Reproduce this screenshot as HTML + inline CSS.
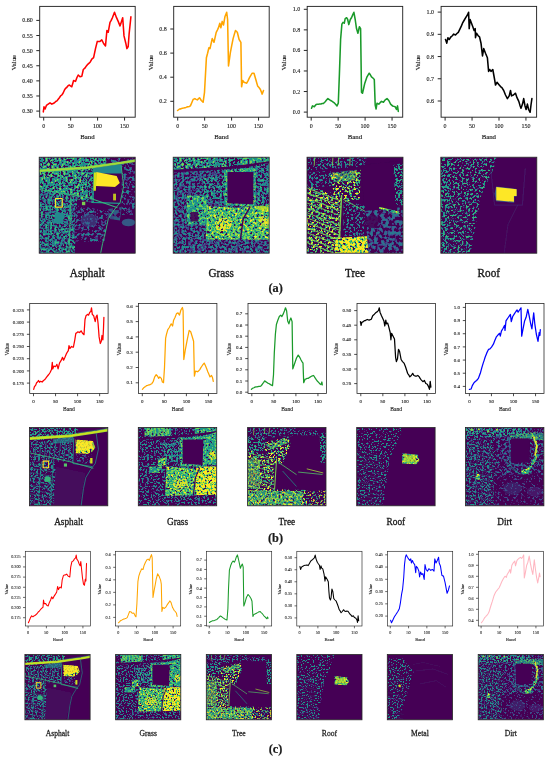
<!DOCTYPE html>
<html><head><meta charset="utf-8"><title>Endmembers and abundance maps</title>
<style>html,body{margin:0;padding:0;background:#fff;}svg{display:block;}</style></head>
<body><svg width="550" height="762" viewBox="0 0 550 762" font-family="'Liberation Serif','Times New Roman',serif" fill="#1a1a1a">
<defs><filter id="tx_tp" x="-5%" y="-5%" width="110%" height="110%" color-interpolation-filters="sRGB"><feTurbulence type="fractalNoise" baseFrequency="0.43" numOctaves="2" seed="3"/><feColorMatrix type="matrix" values="1 0 0 0 0 1 0 0 0 0 1 0 0 0 0 0 0 0 0 1"/><feComponentTransfer><feFuncR type="discrete" tableValues="0.267 0.267 0.267 0.267 0.267 0.267 0.267 0.267 0.267 0.267 0.267 0.267 0.267 0.267 0.267 0.267 0.267 0.267 0.267 0.267 0.267 0.267 0.278 0.224 0.192 0.137 0.137 0.137 0.122 0.122 0.122 0.122 0.208 0.208 0.208 0.208 0.208 0.208 0.208 0.208 0.208 0.208 0.208 0.208 0.208 0.208 0.208 0.208"/><feFuncG type="discrete" tableValues="0.004 0.004 0.004 0.004 0.004 0.004 0.004 0.004 0.004 0.004 0.004 0.004 0.004 0.004 0.004 0.004 0.004 0.004 0.004 0.004 0.004 0.004 0.184 0.337 0.408 0.533 0.533 0.533 0.596 0.596 0.596 0.596 0.718 0.718 0.718 0.718 0.718 0.718 0.718 0.718 0.718 0.718 0.718 0.718 0.718 0.718 0.718 0.718"/><feFuncB type="discrete" tableValues="0.329 0.329 0.329 0.329 0.329 0.329 0.329 0.329 0.329 0.329 0.329 0.329 0.329 0.329 0.329 0.329 0.329 0.329 0.329 0.329 0.329 0.329 0.490 0.549 0.557 0.557 0.557 0.557 0.545 0.545 0.545 0.545 0.475 0.475 0.475 0.475 0.475 0.475 0.475 0.475 0.475 0.475 0.475 0.475 0.475 0.475 0.475 0.475"/></feComponentTransfer><feComposite in2="SourceGraphic" operator="in"/></filter><filter id="tx_tpl" x="-5%" y="-5%" width="110%" height="110%" color-interpolation-filters="sRGB"><feTurbulence type="fractalNoise" baseFrequency="0.43" numOctaves="2" seed="4"/><feColorMatrix type="matrix" values="1 0 0 0 0 1 0 0 0 0 1 0 0 0 0 0 0 0 0 1"/><feComponentTransfer><feFuncR type="discrete" tableValues="0.267 0.267 0.267 0.267 0.267 0.267 0.267 0.267 0.267 0.267 0.267 0.267 0.267 0.267 0.267 0.267 0.267 0.267 0.267 0.267 0.192 0.192 0.137 0.137 0.122 0.122 0.122 0.122 0.208 0.208 0.208 0.208 0.478 0.478 0.478 0.478 0.478 0.478 0.478 0.478 0.478 0.478 0.478 0.478 0.478 0.478 0.478 0.478"/><feFuncG type="discrete" tableValues="0.004 0.004 0.004 0.004 0.004 0.004 0.004 0.004 0.004 0.004 0.004 0.004 0.004 0.004 0.004 0.004 0.004 0.004 0.004 0.004 0.408 0.408 0.533 0.533 0.596 0.596 0.596 0.596 0.718 0.718 0.718 0.718 0.820 0.820 0.820 0.820 0.820 0.820 0.820 0.820 0.820 0.820 0.820 0.820 0.820 0.820 0.820 0.820"/><feFuncB type="discrete" tableValues="0.329 0.329 0.329 0.329 0.329 0.329 0.329 0.329 0.329 0.329 0.329 0.329 0.329 0.329 0.329 0.329 0.329 0.329 0.329 0.329 0.557 0.557 0.557 0.557 0.545 0.545 0.545 0.545 0.475 0.475 0.475 0.475 0.318 0.318 0.318 0.318 0.318 0.318 0.318 0.318 0.318 0.318 0.318 0.318 0.318 0.318 0.318 0.318"/></feComponentTransfer><feComposite in2="SourceGraphic" operator="in"/></filter><filter id="tx_pb" x="-5%" y="-5%" width="110%" height="110%" color-interpolation-filters="sRGB"><feTurbulence type="fractalNoise" baseFrequency="0.34" numOctaves="2" seed="5"/><feColorMatrix type="matrix" values="1 0 0 0 0 1 0 0 0 0 1 0 0 0 0 0 0 0 0 1"/><feComponentTransfer><feFuncR type="discrete" tableValues="0.267 0.267 0.267 0.267 0.267 0.267 0.267 0.267 0.267 0.267 0.267 0.267 0.267 0.267 0.267 0.267 0.267 0.267 0.267 0.267 0.267 0.267 0.267 0.267 0.267 0.278 0.278 0.278 0.224 0.224 0.224 0.224 0.137 0.137 0.137 0.137 0.137 0.137 0.137 0.137 0.137 0.137 0.137 0.137 0.137 0.137 0.137 0.137"/><feFuncG type="discrete" tableValues="0.004 0.004 0.004 0.004 0.004 0.004 0.004 0.004 0.004 0.004 0.004 0.004 0.004 0.004 0.004 0.004 0.004 0.004 0.004 0.004 0.004 0.004 0.004 0.004 0.004 0.184 0.184 0.184 0.337 0.337 0.337 0.337 0.533 0.533 0.533 0.533 0.533 0.533 0.533 0.533 0.533 0.533 0.533 0.533 0.533 0.533 0.533 0.533"/><feFuncB type="discrete" tableValues="0.329 0.329 0.329 0.329 0.329 0.329 0.329 0.329 0.329 0.329 0.329 0.329 0.329 0.329 0.329 0.329 0.329 0.329 0.329 0.329 0.329 0.329 0.329 0.329 0.329 0.490 0.490 0.490 0.549 0.549 0.549 0.549 0.557 0.557 0.557 0.557 0.557 0.557 0.557 0.557 0.557 0.557 0.557 0.557 0.557 0.557 0.557 0.557"/></feComponentTransfer><feComposite in2="SourceGraphic" operator="in"/></filter><filter id="tx_pd" x="-5%" y="-5%" width="110%" height="110%" color-interpolation-filters="sRGB"><feTurbulence type="fractalNoise" baseFrequency="0.34" numOctaves="2" seed="6"/><feColorMatrix type="matrix" values="1 0 0 0 0 1 0 0 0 0 1 0 0 0 0 0 0 0 0 1"/><feComponentTransfer><feFuncR type="discrete" tableValues="0.267 0.267 0.267 0.267 0.267 0.267 0.267 0.267 0.267 0.267 0.267 0.267 0.267 0.267 0.267 0.267 0.267 0.267 0.267 0.267 0.267 0.267 0.267 0.267 0.267 0.267 0.267 0.267 0.282 0.282 0.282 0.255 0.255 0.224 0.224 0.224 0.224 0.224 0.224 0.224 0.224 0.224 0.224 0.224 0.224 0.224 0.224 0.224"/><feFuncG type="discrete" tableValues="0.004 0.004 0.004 0.004 0.004 0.004 0.004 0.004 0.004 0.004 0.004 0.004 0.004 0.004 0.004 0.004 0.004 0.004 0.004 0.004 0.004 0.004 0.004 0.004 0.004 0.004 0.004 0.004 0.102 0.102 0.102 0.267 0.267 0.337 0.337 0.337 0.337 0.337 0.337 0.337 0.337 0.337 0.337 0.337 0.337 0.337 0.337 0.337"/><feFuncB type="discrete" tableValues="0.329 0.329 0.329 0.329 0.329 0.329 0.329 0.329 0.329 0.329 0.329 0.329 0.329 0.329 0.329 0.329 0.329 0.329 0.329 0.329 0.329 0.329 0.329 0.329 0.329 0.329 0.329 0.329 0.424 0.424 0.424 0.529 0.529 0.549 0.549 0.549 0.549 0.549 0.549 0.549 0.549 0.549 0.549 0.549 0.549 0.549 0.549 0.549"/></feComponentTransfer><feComposite in2="SourceGraphic" operator="in"/></filter><filter id="tx_gy" x="-5%" y="-5%" width="110%" height="110%" color-interpolation-filters="sRGB"><feTurbulence type="fractalNoise" baseFrequency="0.4" numOctaves="2" seed="7"/><feColorMatrix type="matrix" values="1 0 0 0 0 1 0 0 0 0 1 0 0 0 0 0 0 0 0 1"/><feComponentTransfer><feFuncR type="discrete" tableValues="0.267 0.267 0.267 0.267 0.267 0.267 0.267 0.267 0.267 0.267 0.267 0.267 0.267 0.267 0.267 0.267 0.137 0.137 0.122 0.122 0.122 0.122 0.208 0.208 0.208 0.478 0.478 0.478 0.478 0.478 0.647 0.647 0.992 0.992 0.992 0.992 0.992 0.992 0.992 0.992 0.992 0.992 0.992 0.992 0.992 0.992 0.992 0.992"/><feFuncG type="discrete" tableValues="0.004 0.004 0.004 0.004 0.004 0.004 0.004 0.004 0.004 0.004 0.004 0.004 0.004 0.004 0.004 0.004 0.533 0.533 0.596 0.596 0.596 0.596 0.718 0.718 0.718 0.820 0.820 0.820 0.820 0.820 0.859 0.859 0.906 0.906 0.906 0.906 0.906 0.906 0.906 0.906 0.906 0.906 0.906 0.906 0.906 0.906 0.906 0.906"/><feFuncB type="discrete" tableValues="0.329 0.329 0.329 0.329 0.329 0.329 0.329 0.329 0.329 0.329 0.329 0.329 0.329 0.329 0.329 0.329 0.557 0.557 0.545 0.545 0.545 0.545 0.475 0.475 0.475 0.318 0.318 0.318 0.318 0.318 0.212 0.212 0.145 0.145 0.145 0.145 0.145 0.145 0.145 0.145 0.145 0.145 0.145 0.145 0.145 0.145 0.145 0.145"/></feComponentTransfer><feComposite in2="SourceGraphic" operator="in"/></filter><filter id="tx_yy" x="-5%" y="-5%" width="110%" height="110%" color-interpolation-filters="sRGB"><feTurbulence type="fractalNoise" baseFrequency="0.4" numOctaves="2" seed="8"/><feColorMatrix type="matrix" values="1 0 0 0 0 1 0 0 0 0 1 0 0 0 0 0 0 0 0 1"/><feComponentTransfer><feFuncR type="discrete" tableValues="0.267 0.267 0.267 0.267 0.267 0.267 0.267 0.267 0.267 0.267 0.267 0.267 0.267 0.267 0.267 0.267 0.122 0.122 0.208 0.208 0.478 0.478 0.478 0.824 0.824 0.992 0.992 0.992 0.992 0.992 0.992 0.992 0.992 0.992 0.992 0.992 0.992 0.992 0.992 0.992 0.992 0.992 0.992 0.992 0.992 0.992 0.992 0.992"/><feFuncG type="discrete" tableValues="0.004 0.004 0.004 0.004 0.004 0.004 0.004 0.004 0.004 0.004 0.004 0.004 0.004 0.004 0.004 0.004 0.596 0.596 0.718 0.718 0.820 0.820 0.820 0.886 0.886 0.906 0.906 0.906 0.906 0.906 0.906 0.906 0.906 0.906 0.906 0.906 0.906 0.906 0.906 0.906 0.906 0.906 0.906 0.906 0.906 0.906 0.906 0.906"/><feFuncB type="discrete" tableValues="0.329 0.329 0.329 0.329 0.329 0.329 0.329 0.329 0.329 0.329 0.329 0.329 0.329 0.329 0.329 0.329 0.545 0.545 0.475 0.475 0.318 0.318 0.318 0.106 0.106 0.145 0.145 0.145 0.145 0.145 0.145 0.145 0.145 0.145 0.145 0.145 0.145 0.145 0.145 0.145 0.145 0.145 0.145 0.145 0.145 0.145 0.145 0.145"/></feComponentTransfer><feComposite in2="SourceGraphic" operator="in"/></filter><filter id="tx_gt" x="-5%" y="-5%" width="110%" height="110%" color-interpolation-filters="sRGB"><feTurbulence type="fractalNoise" baseFrequency="0.4" numOctaves="2" seed="9"/><feColorMatrix type="matrix" values="1 0 0 0 0 1 0 0 0 0 1 0 0 0 0 0 0 0 0 1"/><feComponentTransfer><feFuncR type="discrete" tableValues="0.267 0.267 0.267 0.267 0.267 0.267 0.267 0.267 0.267 0.267 0.267 0.267 0.267 0.267 0.267 0.267 0.137 0.137 0.137 0.137 0.137 0.122 0.122 0.122 0.122 0.208 0.208 0.208 0.208 0.478 0.478 0.478 0.478 0.478 0.478 0.478 0.478 0.478 0.478 0.478 0.478 0.478 0.478 0.478 0.478 0.478 0.478 0.478"/><feFuncG type="discrete" tableValues="0.004 0.004 0.004 0.004 0.004 0.004 0.004 0.004 0.004 0.004 0.004 0.004 0.004 0.004 0.004 0.004 0.533 0.533 0.533 0.533 0.533 0.596 0.596 0.596 0.596 0.718 0.718 0.718 0.718 0.820 0.820 0.820 0.820 0.820 0.820 0.820 0.820 0.820 0.820 0.820 0.820 0.820 0.820 0.820 0.820 0.820 0.820 0.820"/><feFuncB type="discrete" tableValues="0.329 0.329 0.329 0.329 0.329 0.329 0.329 0.329 0.329 0.329 0.329 0.329 0.329 0.329 0.329 0.329 0.557 0.557 0.557 0.557 0.557 0.545 0.545 0.545 0.545 0.475 0.475 0.475 0.475 0.318 0.318 0.318 0.318 0.318 0.318 0.318 0.318 0.318 0.318 0.318 0.318 0.318 0.318 0.318 0.318 0.318 0.318 0.318"/></feComponentTransfer><feComposite in2="SourceGraphic" operator="in"/></filter><filter id="tx_pt" x="-5%" y="-5%" width="110%" height="110%" color-interpolation-filters="sRGB"><feTurbulence type="fractalNoise" baseFrequency="0.43" numOctaves="2" seed="10"/><feColorMatrix type="matrix" values="1 0 0 0 0 1 0 0 0 0 1 0 0 0 0 0 0 0 0 1"/><feComponentTransfer><feFuncR type="discrete" tableValues="0.267 0.267 0.267 0.267 0.267 0.267 0.267 0.267 0.267 0.267 0.267 0.267 0.267 0.267 0.267 0.267 0.267 0.267 0.267 0.267 0.267 0.267 0.267 0.267 0.267 0.137 0.137 0.122 0.122 0.122 0.122 0.122 0.208 0.208 0.208 0.208 0.208 0.208 0.208 0.208 0.208 0.208 0.208 0.208 0.208 0.208 0.208 0.208"/><feFuncG type="discrete" tableValues="0.004 0.004 0.004 0.004 0.004 0.004 0.004 0.004 0.004 0.004 0.004 0.004 0.004 0.004 0.004 0.004 0.004 0.004 0.004 0.004 0.004 0.004 0.004 0.004 0.004 0.533 0.533 0.596 0.596 0.596 0.596 0.596 0.718 0.718 0.718 0.718 0.718 0.718 0.718 0.718 0.718 0.718 0.718 0.718 0.718 0.718 0.718 0.718"/><feFuncB type="discrete" tableValues="0.329 0.329 0.329 0.329 0.329 0.329 0.329 0.329 0.329 0.329 0.329 0.329 0.329 0.329 0.329 0.329 0.329 0.329 0.329 0.329 0.329 0.329 0.329 0.329 0.329 0.557 0.557 0.545 0.545 0.545 0.545 0.545 0.475 0.475 0.475 0.475 0.475 0.475 0.475 0.475 0.475 0.475 0.475 0.475 0.475 0.475 0.475 0.475"/></feComponentTransfer><feComposite in2="SourceGraphic" operator="in"/></filter><filter id="tx_pts" x="-5%" y="-5%" width="110%" height="110%" color-interpolation-filters="sRGB"><feTurbulence type="fractalNoise" baseFrequency="0.45" numOctaves="2" seed="11"/><feColorMatrix type="matrix" values="1 0 0 0 0 1 0 0 0 0 1 0 0 0 0 0 0 0 0 1"/><feComponentTransfer><feFuncR type="discrete" tableValues="0.267 0.267 0.267 0.267 0.267 0.267 0.267 0.267 0.267 0.267 0.267 0.267 0.267 0.267 0.267 0.267 0.267 0.267 0.267 0.267 0.267 0.267 0.267 0.267 0.267 0.267 0.267 0.267 0.278 0.278 0.137 0.137 0.122 0.122 0.122 0.122 0.122 0.122 0.122 0.122 0.122 0.122 0.122 0.122 0.122 0.122 0.122 0.122"/><feFuncG type="discrete" tableValues="0.004 0.004 0.004 0.004 0.004 0.004 0.004 0.004 0.004 0.004 0.004 0.004 0.004 0.004 0.004 0.004 0.004 0.004 0.004 0.004 0.004 0.004 0.004 0.004 0.004 0.004 0.004 0.004 0.184 0.184 0.533 0.533 0.596 0.596 0.596 0.596 0.596 0.596 0.596 0.596 0.596 0.596 0.596 0.596 0.596 0.596 0.596 0.596"/><feFuncB type="discrete" tableValues="0.329 0.329 0.329 0.329 0.329 0.329 0.329 0.329 0.329 0.329 0.329 0.329 0.329 0.329 0.329 0.329 0.329 0.329 0.329 0.329 0.329 0.329 0.329 0.329 0.329 0.329 0.329 0.329 0.490 0.490 0.557 0.557 0.545 0.545 0.545 0.545 0.545 0.545 0.545 0.545 0.545 0.545 0.545 0.545 0.545 0.545 0.545 0.545"/></feComponentTransfer><feComposite in2="SourceGraphic" operator="in"/></filter><filter id="tx_py" x="-5%" y="-5%" width="110%" height="110%" color-interpolation-filters="sRGB"><feTurbulence type="fractalNoise" baseFrequency="0.43" numOctaves="2" seed="12"/><feColorMatrix type="matrix" values="1 0 0 0 0 1 0 0 0 0 1 0 0 0 0 0 0 0 0 1"/><feComponentTransfer><feFuncR type="discrete" tableValues="0.267 0.267 0.267 0.267 0.267 0.267 0.267 0.267 0.267 0.267 0.267 0.267 0.267 0.267 0.267 0.267 0.267 0.267 0.267 0.267 0.267 0.267 0.267 0.267 0.267 0.137 0.122 0.208 0.208 0.478 0.478 0.478 0.992 0.992 0.992 0.992 0.992 0.992 0.992 0.992 0.992 0.992 0.992 0.992 0.992 0.992 0.992 0.992"/><feFuncG type="discrete" tableValues="0.004 0.004 0.004 0.004 0.004 0.004 0.004 0.004 0.004 0.004 0.004 0.004 0.004 0.004 0.004 0.004 0.004 0.004 0.004 0.004 0.004 0.004 0.004 0.004 0.004 0.533 0.596 0.718 0.718 0.820 0.820 0.820 0.906 0.906 0.906 0.906 0.906 0.906 0.906 0.906 0.906 0.906 0.906 0.906 0.906 0.906 0.906 0.906"/><feFuncB type="discrete" tableValues="0.329 0.329 0.329 0.329 0.329 0.329 0.329 0.329 0.329 0.329 0.329 0.329 0.329 0.329 0.329 0.329 0.329 0.329 0.329 0.329 0.329 0.329 0.329 0.329 0.329 0.557 0.545 0.475 0.475 0.318 0.318 0.318 0.145 0.145 0.145 0.145 0.145 0.145 0.145 0.145 0.145 0.145 0.145 0.145 0.145 0.145 0.145 0.145"/></feComponentTransfer><feComposite in2="SourceGraphic" operator="in"/></filter><filter id="tx_ptd" x="-5%" y="-5%" width="110%" height="110%" color-interpolation-filters="sRGB"><feTurbulence type="fractalNoise" baseFrequency="0.43" numOctaves="2" seed="14"/><feColorMatrix type="matrix" values="1 0 0 0 0 1 0 0 0 0 1 0 0 0 0 0 0 0 0 1"/><feComponentTransfer><feFuncR type="discrete" tableValues="0.267 0.267 0.267 0.267 0.267 0.267 0.267 0.267 0.267 0.267 0.267 0.267 0.267 0.267 0.267 0.267 0.267 0.267 0.267 0.267 0.267 0.267 0.267 0.267 0.267 0.267 0.278 0.278 0.165 0.165 0.137 0.137 0.122 0.122 0.122 0.122 0.122 0.122 0.122 0.122 0.122 0.122 0.122 0.122 0.122 0.122 0.122 0.122"/><feFuncG type="discrete" tableValues="0.004 0.004 0.004 0.004 0.004 0.004 0.004 0.004 0.004 0.004 0.004 0.004 0.004 0.004 0.004 0.004 0.004 0.004 0.004 0.004 0.004 0.004 0.004 0.004 0.004 0.004 0.184 0.184 0.471 0.471 0.533 0.533 0.596 0.596 0.596 0.596 0.596 0.596 0.596 0.596 0.596 0.596 0.596 0.596 0.596 0.596 0.596 0.596"/><feFuncB type="discrete" tableValues="0.329 0.329 0.329 0.329 0.329 0.329 0.329 0.329 0.329 0.329 0.329 0.329 0.329 0.329 0.329 0.329 0.329 0.329 0.329 0.329 0.329 0.329 0.329 0.329 0.329 0.329 0.490 0.490 0.557 0.557 0.557 0.557 0.545 0.545 0.545 0.545 0.545 0.545 0.545 0.545 0.545 0.545 0.545 0.545 0.545 0.545 0.545 0.545"/></feComponentTransfer><feComposite in2="SourceGraphic" operator="in"/></filter><filter id="tx_pds" x="-5%" y="-5%" width="110%" height="110%" color-interpolation-filters="sRGB"><feTurbulence type="fractalNoise" baseFrequency="0.43" numOctaves="2" seed="15"/><feColorMatrix type="matrix" values="1 0 0 0 0 1 0 0 0 0 1 0 0 0 0 0 0 0 0 1"/><feComponentTransfer><feFuncR type="discrete" tableValues="0.267 0.267 0.267 0.267 0.267 0.267 0.267 0.267 0.267 0.267 0.267 0.267 0.267 0.267 0.267 0.267 0.267 0.267 0.267 0.267 0.267 0.267 0.267 0.267 0.267 0.267 0.267 0.267 0.278 0.278 0.165 0.165 0.137 0.137 0.137 0.137 0.137 0.137 0.137 0.137 0.137 0.137 0.137 0.137 0.137 0.137 0.137 0.137"/><feFuncG type="discrete" tableValues="0.004 0.004 0.004 0.004 0.004 0.004 0.004 0.004 0.004 0.004 0.004 0.004 0.004 0.004 0.004 0.004 0.004 0.004 0.004 0.004 0.004 0.004 0.004 0.004 0.004 0.004 0.004 0.004 0.184 0.184 0.471 0.471 0.533 0.533 0.533 0.533 0.533 0.533 0.533 0.533 0.533 0.533 0.533 0.533 0.533 0.533 0.533 0.533"/><feFuncB type="discrete" tableValues="0.329 0.329 0.329 0.329 0.329 0.329 0.329 0.329 0.329 0.329 0.329 0.329 0.329 0.329 0.329 0.329 0.329 0.329 0.329 0.329 0.329 0.329 0.329 0.329 0.329 0.329 0.329 0.329 0.490 0.490 0.557 0.557 0.557 0.557 0.557 0.557 0.557 0.557 0.557 0.557 0.557 0.557 0.557 0.557 0.557 0.557 0.557 0.557"/></feComponentTransfer><feComposite in2="SourceGraphic" operator="in"/></filter><filter id="tx_btd" x="-5%" y="-5%" width="110%" height="110%" color-interpolation-filters="sRGB"><feTurbulence type="fractalNoise" baseFrequency="0.27" numOctaves="2" seed="16"/><feColorMatrix type="matrix" values="1 0 0 0 0 1 0 0 0 0 1 0 0 0 0 0 0 0 0 1"/><feComponentTransfer><feFuncR type="discrete" tableValues="0.267 0.267 0.267 0.267 0.267 0.267 0.267 0.267 0.267 0.267 0.267 0.267 0.267 0.267 0.267 0.267 0.267 0.267 0.267 0.267 0.267 0.267 0.278 0.278 0.278 0.224 0.224 0.192 0.192 0.192 0.192 0.192 0.165 0.165 0.165 0.165 0.165 0.165 0.165 0.165 0.165 0.165 0.165 0.165 0.165 0.165 0.165 0.165"/><feFuncG type="discrete" tableValues="0.004 0.004 0.004 0.004 0.004 0.004 0.004 0.004 0.004 0.004 0.004 0.004 0.004 0.004 0.004 0.004 0.004 0.004 0.004 0.004 0.004 0.004 0.184 0.184 0.184 0.337 0.337 0.408 0.408 0.408 0.408 0.408 0.471 0.471 0.471 0.471 0.471 0.471 0.471 0.471 0.471 0.471 0.471 0.471 0.471 0.471 0.471 0.471"/><feFuncB type="discrete" tableValues="0.329 0.329 0.329 0.329 0.329 0.329 0.329 0.329 0.329 0.329 0.329 0.329 0.329 0.329 0.329 0.329 0.329 0.329 0.329 0.329 0.329 0.329 0.490 0.490 0.490 0.549 0.549 0.557 0.557 0.557 0.557 0.557 0.557 0.557 0.557 0.557 0.557 0.557 0.557 0.557 0.557 0.557 0.557 0.557 0.557 0.557 0.557 0.557"/></feComponentTransfer><feComposite in2="SourceGraphic" operator="in"/></filter><filter id="tx_tpm" x="-5%" y="-5%" width="110%" height="110%" color-interpolation-filters="sRGB"><feTurbulence type="fractalNoise" baseFrequency="0.43" numOctaves="2" seed="17"/><feColorMatrix type="matrix" values="1 0 0 0 0 1 0 0 0 0 1 0 0 0 0 0 0 0 0 1"/><feComponentTransfer><feFuncR type="discrete" tableValues="0.267 0.267 0.267 0.267 0.267 0.267 0.267 0.267 0.267 0.267 0.267 0.267 0.267 0.267 0.267 0.267 0.267 0.267 0.267 0.267 0.267 0.278 0.278 0.255 0.255 0.224 0.224 0.192 0.137 0.137 0.137 0.137 0.122 0.122 0.122 0.122 0.122 0.122 0.122 0.122 0.122 0.122 0.122 0.122 0.122 0.122 0.122 0.122"/><feFuncG type="discrete" tableValues="0.004 0.004 0.004 0.004 0.004 0.004 0.004 0.004 0.004 0.004 0.004 0.004 0.004 0.004 0.004 0.004 0.004 0.004 0.004 0.004 0.004 0.184 0.184 0.267 0.267 0.337 0.337 0.408 0.533 0.533 0.533 0.533 0.596 0.596 0.596 0.596 0.596 0.596 0.596 0.596 0.596 0.596 0.596 0.596 0.596 0.596 0.596 0.596"/><feFuncB type="discrete" tableValues="0.329 0.329 0.329 0.329 0.329 0.329 0.329 0.329 0.329 0.329 0.329 0.329 0.329 0.329 0.329 0.329 0.329 0.329 0.329 0.329 0.329 0.490 0.490 0.529 0.529 0.549 0.549 0.557 0.557 0.557 0.557 0.557 0.545 0.545 0.545 0.545 0.545 0.545 0.545 0.545 0.545 0.545 0.545 0.545 0.545 0.545 0.545 0.545"/></feComponentTransfer><feComposite in2="SourceGraphic" operator="in"/></filter><filter id="tx_ptr" x="-5%" y="-5%" width="110%" height="110%" color-interpolation-filters="sRGB"><feTurbulence type="fractalNoise" baseFrequency="0.45" numOctaves="2" seed="18"/><feColorMatrix type="matrix" values="1 0 0 0 0 1 0 0 0 0 1 0 0 0 0 0 0 0 0 1"/><feComponentTransfer><feFuncR type="discrete" tableValues="0.267 0.267 0.267 0.267 0.267 0.267 0.267 0.267 0.267 0.267 0.267 0.267 0.267 0.267 0.267 0.267 0.267 0.267 0.267 0.267 0.267 0.267 0.267 0.267 0.267 0.267 0.278 0.278 0.137 0.137 0.122 0.122 0.208 0.208 0.208 0.208 0.208 0.208 0.208 0.208 0.208 0.208 0.208 0.208 0.208 0.208 0.208 0.208"/><feFuncG type="discrete" tableValues="0.004 0.004 0.004 0.004 0.004 0.004 0.004 0.004 0.004 0.004 0.004 0.004 0.004 0.004 0.004 0.004 0.004 0.004 0.004 0.004 0.004 0.004 0.004 0.004 0.004 0.004 0.184 0.184 0.533 0.533 0.596 0.596 0.718 0.718 0.718 0.718 0.718 0.718 0.718 0.718 0.718 0.718 0.718 0.718 0.718 0.718 0.718 0.718"/><feFuncB type="discrete" tableValues="0.329 0.329 0.329 0.329 0.329 0.329 0.329 0.329 0.329 0.329 0.329 0.329 0.329 0.329 0.329 0.329 0.329 0.329 0.329 0.329 0.329 0.329 0.329 0.329 0.329 0.329 0.490 0.490 0.557 0.557 0.545 0.545 0.475 0.475 0.475 0.475 0.475 0.475 0.475 0.475 0.475 0.475 0.475 0.475 0.475 0.475 0.475 0.475"/></feComponentTransfer><feComposite in2="SourceGraphic" operator="in"/></filter><filter id="tx_bt" x="-5%" y="-5%" width="110%" height="110%" color-interpolation-filters="sRGB"><feTurbulence type="fractalNoise" baseFrequency="0.27" numOctaves="2" seed="13"/><feColorMatrix type="matrix" values="1 0 0 0 0 1 0 0 0 0 1 0 0 0 0 0 0 0 0 1"/><feComponentTransfer><feFuncR type="discrete" tableValues="0.267 0.267 0.267 0.267 0.267 0.267 0.267 0.267 0.267 0.267 0.267 0.267 0.267 0.267 0.267 0.267 0.267 0.278 0.278 0.224 0.224 0.224 0.224 0.224 0.192 0.192 0.192 0.192 0.192 0.165 0.165 0.165 0.165 0.165 0.165 0.165 0.165 0.165 0.165 0.165 0.165 0.165 0.165 0.165 0.165 0.165 0.165 0.165"/><feFuncG type="discrete" tableValues="0.004 0.004 0.004 0.004 0.004 0.004 0.004 0.004 0.004 0.004 0.004 0.004 0.004 0.004 0.004 0.004 0.004 0.184 0.184 0.337 0.337 0.337 0.337 0.337 0.408 0.408 0.408 0.408 0.408 0.471 0.471 0.471 0.471 0.471 0.471 0.471 0.471 0.471 0.471 0.471 0.471 0.471 0.471 0.471 0.471 0.471 0.471 0.471"/><feFuncB type="discrete" tableValues="0.329 0.329 0.329 0.329 0.329 0.329 0.329 0.329 0.329 0.329 0.329 0.329 0.329 0.329 0.329 0.329 0.329 0.490 0.490 0.549 0.549 0.549 0.549 0.549 0.557 0.557 0.557 0.557 0.557 0.557 0.557 0.557 0.557 0.557 0.557 0.557 0.557 0.557 0.557 0.557 0.557 0.557 0.557 0.557 0.557 0.557 0.557 0.557"/></feComponentTransfer><feComposite in2="SourceGraphic" operator="in"/></filter><filter id="mblur" x="-5%" y="-5%" width="110%" height="110%"><feGaussianBlur stdDeviation="0.55"/></filter></defs>
<rect width="550" height="762" fill="#fff"/>
<polyline points="43.3,111.9 44,106.8 45.1,109 46.4,105.4 48.2,104.1 50,102.8 51.8,104.1 53.15,103.44 54.5,102.8 55.73,101.55 56.97,100.9 58.2,99.2 59.4,97.72 60.6,95.9 61.8,95 63.03,93.21 64.27,90.45 65.5,88.3 66.7,87.49 67.9,85.97 69.1,85 70.45,85.81 71.8,86.8 73.6,80.5 75.5,81.4 76.85,77.77 78.2,75 80,76.8 81.8,76.3 83.3,69.5 84.85,68.2 86.4,65.9 87.75,64.32 89.1,63.2 90.45,61.65 91.8,59.2 93.6,57.7 95.5,48.6 97.3,41.4 98.65,41.53 100,41.4 101.8,39.9 103.6,43.5 105.5,45.9 106.9,30.5 108.2,32.3 110,22.3 111.2,20.42 112.4,17.7 114.5,12.3 116.4,17.4 118.2,21.4 120,25.9 121.5,21.4 122.7,17.7 124,35.9 125.8,43.2 126.9,48.6 128.2,46.5 129.1,34.1 130.9,16.8" fill="none" stroke="#ff0000" stroke-width="1.55" stroke-linejoin="round" stroke-linecap="round"/>
<rect x="39.7" y="6.4" width="95.5" height="110.8" fill="none" stroke="#262626" stroke-width="0.95"/>
<line x1="36.3" y1="111.1" x2="39.7" y2="111.1" stroke="#262626" stroke-width="1.00"/>
<text x="32.7" y="113.08" font-size="6.0" text-anchor="end" stroke="#1a1a1a" stroke-width="0.12">0.30</text>
<line x1="36.3" y1="95.98" x2="39.7" y2="95.98" stroke="#262626" stroke-width="1.00"/>
<text x="32.7" y="97.96" font-size="6.0" text-anchor="end" stroke="#1a1a1a" stroke-width="0.12">0.35</text>
<line x1="36.3" y1="80.87" x2="39.7" y2="80.87" stroke="#262626" stroke-width="1.00"/>
<text x="32.7" y="82.85" font-size="6.0" text-anchor="end" stroke="#1a1a1a" stroke-width="0.12">0.40</text>
<line x1="36.3" y1="65.75" x2="39.7" y2="65.75" stroke="#262626" stroke-width="1.00"/>
<text x="32.7" y="67.73" font-size="6.0" text-anchor="end" stroke="#1a1a1a" stroke-width="0.12">0.45</text>
<line x1="36.3" y1="50.63" x2="39.7" y2="50.63" stroke="#262626" stroke-width="1.00"/>
<text x="32.7" y="52.61" font-size="6.0" text-anchor="end" stroke="#1a1a1a" stroke-width="0.12">0.50</text>
<line x1="36.3" y1="35.52" x2="39.7" y2="35.52" stroke="#262626" stroke-width="1.00"/>
<text x="32.7" y="37.5" font-size="6.0" text-anchor="end" stroke="#1a1a1a" stroke-width="0.12">0.55</text>
<line x1="36.3" y1="20.4" x2="39.7" y2="20.4" stroke="#262626" stroke-width="1.00"/>
<text x="32.7" y="22.38" font-size="6.0" text-anchor="end" stroke="#1a1a1a" stroke-width="0.12">0.60</text>
<line x1="43.7" y1="117.2" x2="43.7" y2="120.6" stroke="#262626" stroke-width="1.00"/>
<text x="43.7" y="128.28" font-size="6.0" text-anchor="middle" stroke="#1a1a1a" stroke-width="0.12">0</text>
<line x1="70.65" y1="117.2" x2="70.65" y2="120.6" stroke="#262626" stroke-width="1.00"/>
<text x="70.65" y="128.28" font-size="6.0" text-anchor="middle" stroke="#1a1a1a" stroke-width="0.12">50</text>
<line x1="97.6" y1="117.2" x2="97.6" y2="120.6" stroke="#262626" stroke-width="1.00"/>
<text x="97.6" y="128.28" font-size="6.0" text-anchor="middle" stroke="#1a1a1a" stroke-width="0.12">100</text>
<line x1="124.55" y1="117.2" x2="124.55" y2="120.6" stroke="#262626" stroke-width="1.00"/>
<text x="124.55" y="128.28" font-size="6.0" text-anchor="middle" stroke="#1a1a1a" stroke-width="0.12">150</text>
<text x="87.45" y="138.54" font-size="6.8" text-anchor="middle" stroke="#1a1a1a" stroke-width="0.15">Band</text>
<text transform="translate(16.44,62.6) rotate(-90)" font-size="6.8" text-anchor="middle" stroke="#1a1a1a" stroke-width="0.15">Value</text>
<polyline points="177.6,110.5 179.5,109 180.85,108.86 182.2,108.32 183.55,108.06 184.9,107.7 186,107.4 187.1,106.86 188.2,106.8 189.3,106.44 190.4,105.9 191.75,102.7 193.1,99.5 194.9,98.6 196.1,99.4 197.3,99.9 199.5,97.7 201.3,100.5 203.1,102.3 204.5,92.3 206.4,57.7 207.6,53.2 208.9,47.7 210,48.6 212.2,38.6 214,42.3 216.2,32.3 217.35,30.1 218.5,27.7 219.8,23.2 220.9,27.7 222.2,21.4 223.5,25 224.9,16.8 226.7,12.3 227.6,19.5 228.5,65.9 230.4,52.3 231.75,45.43 233.1,38.6 234.3,34.41 235.5,30.5 237.3,32.3 239.1,39.5 240.9,42.3 241.6,86.8 242.7,80.5 244,82.3 245.35,82.63 246.7,83.2 248.1,80.61 249.5,77.7 250.85,75.31 252.2,73.2 254,73.2 255.8,79.5 257.6,85.9 259,87.51 260.4,89.5 262.2,94.1 263.5,90.5" fill="none" stroke="#ffa500" stroke-width="1.55" stroke-linejoin="round" stroke-linecap="round"/>
<rect x="173.7" y="6.4" width="95.5" height="110.8" fill="none" stroke="#262626" stroke-width="0.95"/>
<line x1="170.3" y1="101.3" x2="173.7" y2="101.3" stroke="#262626" stroke-width="1.00"/>
<text x="166.7" y="103.28" font-size="6.0" text-anchor="end" stroke="#1a1a1a" stroke-width="0.12">0.2</text>
<line x1="170.3" y1="77.2" x2="173.7" y2="77.2" stroke="#262626" stroke-width="1.00"/>
<text x="166.7" y="79.18" font-size="6.0" text-anchor="end" stroke="#1a1a1a" stroke-width="0.12">0.4</text>
<line x1="170.3" y1="53.1" x2="173.7" y2="53.1" stroke="#262626" stroke-width="1.00"/>
<text x="166.7" y="55.08" font-size="6.0" text-anchor="end" stroke="#1a1a1a" stroke-width="0.12">0.6</text>
<line x1="170.3" y1="29" x2="173.7" y2="29" stroke="#262626" stroke-width="1.00"/>
<text x="166.7" y="30.98" font-size="6.0" text-anchor="end" stroke="#1a1a1a" stroke-width="0.12">0.8</text>
<line x1="177.7" y1="117.2" x2="177.7" y2="120.6" stroke="#262626" stroke-width="1.00"/>
<text x="177.7" y="128.28" font-size="6.0" text-anchor="middle" stroke="#1a1a1a" stroke-width="0.12">0</text>
<line x1="204.65" y1="117.2" x2="204.65" y2="120.6" stroke="#262626" stroke-width="1.00"/>
<text x="204.65" y="128.28" font-size="6.0" text-anchor="middle" stroke="#1a1a1a" stroke-width="0.12">50</text>
<line x1="231.6" y1="117.2" x2="231.6" y2="120.6" stroke="#262626" stroke-width="1.00"/>
<text x="231.6" y="128.28" font-size="6.0" text-anchor="middle" stroke="#1a1a1a" stroke-width="0.12">100</text>
<line x1="258.55" y1="117.2" x2="258.55" y2="120.6" stroke="#262626" stroke-width="1.00"/>
<text x="258.55" y="128.28" font-size="6.0" text-anchor="middle" stroke="#1a1a1a" stroke-width="0.12">150</text>
<text x="221.45" y="138.54" font-size="6.8" text-anchor="middle" stroke="#1a1a1a" stroke-width="0.15">Band</text>
<text transform="translate(152.64,62.6) rotate(-90)" font-size="6.8" text-anchor="middle" stroke="#1a1a1a" stroke-width="0.15">Value</text>
<polyline points="311.5,108.3 312.5,105.9 314.3,106.8 316.1,104.6 317.3,104.27 318.5,104.34 319.7,104.1 320.93,103.96 322.17,103.52 323.4,103.5 325.2,101.7 326.55,100.09 327.9,98.6 329.7,99.9 331.1,100.71 332.5,101.7 334.6,103.2 335.8,104.45 337,105.9 338.3,103.2 339.4,74.1 340.6,39.5 341.9,24.1 343,22.3 344.3,23.2 345.2,18.6 346.6,17.7 347.7,19.5 348.8,24.6 350.3,19.5 351.5,17.7 352.7,14.86 353.9,12.3 355.2,19.5 356.5,28.6 357.9,33.2 359.4,26.8 360.6,28.6 361.5,92.3 362.5,93.2 363.65,88.24 364.8,83.2 367,76.8 369.2,73.2 370.35,74.8 371.5,76.8 372.9,78.01 374.3,79.5 375.2,105 376.1,109 377,103.2 378.8,104.1 380.15,102.67 381.5,101.4 383.4,102.3 385.2,99.9 387,98.6 388.8,100.5 390.6,104.1 392.5,105.9 393.85,106.36 395.2,106.8 396.5,109.5 397.5,105.9 398.3,111.4" fill="none" stroke="#1a9a2a" stroke-width="1.55" stroke-linejoin="round" stroke-linecap="round"/>
<rect x="307.2" y="6.4" width="95.5" height="110.8" fill="none" stroke="#262626" stroke-width="0.95"/>
<line x1="303.8" y1="112.1" x2="307.2" y2="112.1" stroke="#262626" stroke-width="1.00"/>
<text x="300.2" y="114.08" font-size="6.0" text-anchor="end" stroke="#1a1a1a" stroke-width="0.12">0.0</text>
<line x1="303.8" y1="91.54" x2="307.2" y2="91.54" stroke="#262626" stroke-width="1.00"/>
<text x="300.2" y="93.52" font-size="6.0" text-anchor="end" stroke="#1a1a1a" stroke-width="0.12">0.2</text>
<line x1="303.8" y1="70.98" x2="307.2" y2="70.98" stroke="#262626" stroke-width="1.00"/>
<text x="300.2" y="72.96" font-size="6.0" text-anchor="end" stroke="#1a1a1a" stroke-width="0.12">0.4</text>
<line x1="303.8" y1="50.42" x2="307.2" y2="50.42" stroke="#262626" stroke-width="1.00"/>
<text x="300.2" y="52.4" font-size="6.0" text-anchor="end" stroke="#1a1a1a" stroke-width="0.12">0.6</text>
<line x1="303.8" y1="29.86" x2="307.2" y2="29.86" stroke="#262626" stroke-width="1.00"/>
<text x="300.2" y="31.84" font-size="6.0" text-anchor="end" stroke="#1a1a1a" stroke-width="0.12">0.8</text>
<line x1="303.8" y1="9.3" x2="307.2" y2="9.3" stroke="#262626" stroke-width="1.00"/>
<text x="300.2" y="11.28" font-size="6.0" text-anchor="end" stroke="#1a1a1a" stroke-width="0.12">1.0</text>
<line x1="311.2" y1="117.2" x2="311.2" y2="120.6" stroke="#262626" stroke-width="1.00"/>
<text x="311.2" y="128.28" font-size="6.0" text-anchor="middle" stroke="#1a1a1a" stroke-width="0.12">0</text>
<line x1="338.15" y1="117.2" x2="338.15" y2="120.6" stroke="#262626" stroke-width="1.00"/>
<text x="338.15" y="128.28" font-size="6.0" text-anchor="middle" stroke="#1a1a1a" stroke-width="0.12">50</text>
<line x1="365.1" y1="117.2" x2="365.1" y2="120.6" stroke="#262626" stroke-width="1.00"/>
<text x="365.1" y="128.28" font-size="6.0" text-anchor="middle" stroke="#1a1a1a" stroke-width="0.12">100</text>
<line x1="392.05" y1="117.2" x2="392.05" y2="120.6" stroke="#262626" stroke-width="1.00"/>
<text x="392.05" y="128.28" font-size="6.0" text-anchor="middle" stroke="#1a1a1a" stroke-width="0.12">150</text>
<text x="354.95" y="138.54" font-size="6.8" text-anchor="middle" stroke="#1a1a1a" stroke-width="0.15">Band</text>
<text transform="translate(286.14,62.6) rotate(-90)" font-size="6.8" text-anchor="middle" stroke="#1a1a1a" stroke-width="0.15">Value</text>
<polyline points="445.5,39.5 446.8,43.2 447.9,37.7 449.2,39.5 451,36.8 452.35,35.75 453.7,34.1 455.5,35 456.9,33.51 458.3,32.3 460.1,28.6 461.3,26.15 462.5,23.2 464.6,19.5 466,17.2 467.4,15 468.6,12.3 469.2,28.6 470.1,19.5 471.5,23.2 472.8,26.8 474.1,30.5 475.2,28.6 475.5,37.7 476.5,33.2 478.3,35.9 479.5,36.8 481,43.2 482.5,55.9 483.7,48.6 485.5,53.2 487.4,57.7 488.6,71.4 489.7,69.5 491,71.4 492.8,69.5 494.6,79.5 495.5,85 497,82.3 499.2,85 500.55,86.59 501.9,87.7 503.7,90.5 505.5,95 507.4,98.6 509.2,95.9 510.5,90.5 511.5,95.9 513.4,95 515.5,93.2 517,97.7 518.8,101.4 519.9,105.15 521,108.3 522.5,104.1 523.7,98.6 525,105.9 526.1,109.5 527.4,104.1 528.6,109.5 530.1,112.3 531,105 531.9,98.6" fill="none" stroke="#000000" stroke-width="1.55" stroke-linejoin="round" stroke-linecap="round"/>
<rect x="441.1" y="6.4" width="95.5" height="110.8" fill="none" stroke="#262626" stroke-width="0.95"/>
<line x1="437.7" y1="101" x2="441.1" y2="101" stroke="#262626" stroke-width="1.00"/>
<text x="434.1" y="102.98" font-size="6.0" text-anchor="end" stroke="#1a1a1a" stroke-width="0.12">0.6</text>
<line x1="437.7" y1="78.78" x2="441.1" y2="78.78" stroke="#262626" stroke-width="1.00"/>
<text x="434.1" y="80.76" font-size="6.0" text-anchor="end" stroke="#1a1a1a" stroke-width="0.12">0.7</text>
<line x1="437.7" y1="56.55" x2="441.1" y2="56.55" stroke="#262626" stroke-width="1.00"/>
<text x="434.1" y="58.53" font-size="6.0" text-anchor="end" stroke="#1a1a1a" stroke-width="0.12">0.8</text>
<line x1="437.7" y1="34.32" x2="441.1" y2="34.32" stroke="#262626" stroke-width="1.00"/>
<text x="434.1" y="36.3" font-size="6.0" text-anchor="end" stroke="#1a1a1a" stroke-width="0.12">0.9</text>
<line x1="437.7" y1="12.1" x2="441.1" y2="12.1" stroke="#262626" stroke-width="1.00"/>
<text x="434.1" y="14.08" font-size="6.0" text-anchor="end" stroke="#1a1a1a" stroke-width="0.12">1.0</text>
<line x1="445.1" y1="117.2" x2="445.1" y2="120.6" stroke="#262626" stroke-width="1.00"/>
<text x="445.1" y="128.28" font-size="6.0" text-anchor="middle" stroke="#1a1a1a" stroke-width="0.12">0</text>
<line x1="472.05" y1="117.2" x2="472.05" y2="120.6" stroke="#262626" stroke-width="1.00"/>
<text x="472.05" y="128.28" font-size="6.0" text-anchor="middle" stroke="#1a1a1a" stroke-width="0.12">50</text>
<line x1="499" y1="117.2" x2="499" y2="120.6" stroke="#262626" stroke-width="1.00"/>
<text x="499" y="128.28" font-size="6.0" text-anchor="middle" stroke="#1a1a1a" stroke-width="0.12">100</text>
<line x1="525.95" y1="117.2" x2="525.95" y2="120.6" stroke="#262626" stroke-width="1.00"/>
<text x="525.95" y="128.28" font-size="6.0" text-anchor="middle" stroke="#1a1a1a" stroke-width="0.12">150</text>
<text x="488.85" y="138.54" font-size="6.8" text-anchor="middle" stroke="#1a1a1a" stroke-width="0.15">Band</text>
<text transform="translate(420.04,62.6) rotate(-90)" font-size="6.8" text-anchor="middle" stroke="#1a1a1a" stroke-width="0.15">Value</text>
<polyline points="33.7,389.3 34.5,386.4 35.5,385.6 36.6,382.7 37.7,381.7 38.5,380.5 39.5,382.3 40.6,381.3 42.1,382 43.5,380.5 44.6,379.82 45.7,378.4 46.8,376.89 47.9,375.5 49,374.08 50.1,372.5 51.5,369.6 52.3,362.4 52.7,368.9 54,366 55.5,366.7 56.9,364.3 58.1,368.9 59.5,363.1 61.3,360.2 62.5,357.3 63.6,360.2 64.85,357.42 66.1,354.4 67.2,352.3 68.3,350.7 69,345.6 70,348.5 71.5,346.4 72.45,347.11 73.4,347.1 74.8,339.8 75.8,333.3 76.75,332.9 77.7,331.8 78.65,332.16 79.6,332.5 81.1,330.8 82.5,333.3 84,334.7 85,319.5 86,315.8 87.5,314.4 88.6,315.1 89.8,312.2 90.8,311.5 91.5,307.8 92.3,314.4 93.7,315.8 95.2,321.6 96.2,316.5 97.1,315.1 98.1,323.8 99.1,336.9 100.3,343.5 101.3,341.3 102,335.5 102.9,339.8 103.5,328.2 103.9,317.3" fill="none" stroke="#ff0000" stroke-width="1.25" stroke-linejoin="round" stroke-linecap="round"/>
<rect x="29.7" y="303.4" width="78.4" height="90" fill="none" stroke="#262626" stroke-width="0.78"/>
<line x1="26.9" y1="383.1" x2="29.7" y2="383.1" stroke="#262626" stroke-width="0.82"/>
<text x="24" y="384.75" font-size="5.0" text-anchor="end" stroke="#1a1a1a" stroke-width="0.10">0.175</text>
<line x1="26.9" y1="370.9" x2="29.7" y2="370.9" stroke="#262626" stroke-width="0.82"/>
<text x="24" y="372.55" font-size="5.0" text-anchor="end" stroke="#1a1a1a" stroke-width="0.10">0.200</text>
<line x1="26.9" y1="358.7" x2="29.7" y2="358.7" stroke="#262626" stroke-width="0.82"/>
<text x="24" y="360.35" font-size="5.0" text-anchor="end" stroke="#1a1a1a" stroke-width="0.10">0.225</text>
<line x1="26.9" y1="346.5" x2="29.7" y2="346.5" stroke="#262626" stroke-width="0.82"/>
<text x="24" y="348.15" font-size="5.0" text-anchor="end" stroke="#1a1a1a" stroke-width="0.10">0.250</text>
<line x1="26.9" y1="334.3" x2="29.7" y2="334.3" stroke="#262626" stroke-width="0.82"/>
<text x="24" y="335.95" font-size="5.0" text-anchor="end" stroke="#1a1a1a" stroke-width="0.10">0.275</text>
<line x1="26.9" y1="322.1" x2="29.7" y2="322.1" stroke="#262626" stroke-width="0.82"/>
<text x="24" y="323.75" font-size="5.0" text-anchor="end" stroke="#1a1a1a" stroke-width="0.10">0.300</text>
<line x1="26.9" y1="309.9" x2="29.7" y2="309.9" stroke="#262626" stroke-width="0.82"/>
<text x="24" y="311.55" font-size="5.0" text-anchor="end" stroke="#1a1a1a" stroke-width="0.10">0.325</text>
<line x1="33.5" y1="393.4" x2="33.5" y2="396.2" stroke="#262626" stroke-width="0.82"/>
<text x="33.5" y="402.5" font-size="5.0" text-anchor="middle" stroke="#1a1a1a" stroke-width="0.10">0</text>
<line x1="55.55" y1="393.4" x2="55.55" y2="396.2" stroke="#262626" stroke-width="0.82"/>
<text x="55.55" y="402.5" font-size="5.0" text-anchor="middle" stroke="#1a1a1a" stroke-width="0.10">50</text>
<line x1="77.6" y1="393.4" x2="77.6" y2="396.2" stroke="#262626" stroke-width="0.82"/>
<text x="77.6" y="402.5" font-size="5.0" text-anchor="middle" stroke="#1a1a1a" stroke-width="0.10">100</text>
<line x1="99.65" y1="393.4" x2="99.65" y2="396.2" stroke="#262626" stroke-width="0.82"/>
<text x="99.65" y="402.5" font-size="5.0" text-anchor="middle" stroke="#1a1a1a" stroke-width="0.10">150</text>
<text x="68.9" y="410.85" font-size="5.6" text-anchor="middle" stroke="#1a1a1a" stroke-width="0.12">Band</text>
<text transform="translate(8.56,349.06) rotate(-90)" font-size="5.6" text-anchor="middle" stroke="#1a1a1a" stroke-width="0.12">Value</text>
<polyline points="142.4,389.3 143.45,388.03 144.5,387.1 145.6,386.42 146.7,385.6 147.67,385.43 148.63,384.95 149.6,384.9 150.7,384.24 151.8,383.7 153.3,381.3 154.7,376.9 156.2,374.7 157.6,376.2 158.7,378.4 159.8,376.9 161.3,378.4 162.4,382 163.5,382.7 164.5,367.5 165.6,338.4 166.4,334.7 167.8,329.6 169.3,327.5 170.25,325.56 171.2,323.8 172.6,326 173.6,320.2 175.1,317.3 176.5,313.6 178,312.9 179.5,315.1 180.9,310 182.4,307.5 183.1,310.7 183.8,359.5 185.3,350 186.4,344.1 187.5,338.4 189.2,330.4 190.7,331.8 192.1,336.2 193.6,341.3 194.4,376.2 195.5,371.1 196.55,371.31 197.6,371.8 198.7,370.74 199.8,369.6 200.9,367.6 202,366 203.1,364.41 204.2,363.1 205.6,366 206.7,368.82 207.8,371.8 208.9,374.36 210,376.9 211.5,375.5 212.5,377.6 213.3,381.3" fill="none" stroke="#ffa500" stroke-width="1.25" stroke-linejoin="round" stroke-linecap="round"/>
<rect x="138.5" y="303.4" width="78.4" height="90" fill="none" stroke="#262626" stroke-width="0.78"/>
<line x1="135.7" y1="382.8" x2="138.5" y2="382.8" stroke="#262626" stroke-width="0.82"/>
<text x="132.8" y="384.45" font-size="5.0" text-anchor="end" stroke="#1a1a1a" stroke-width="0.10">0.1</text>
<line x1="135.7" y1="367.5" x2="138.5" y2="367.5" stroke="#262626" stroke-width="0.82"/>
<text x="132.8" y="369.15" font-size="5.0" text-anchor="end" stroke="#1a1a1a" stroke-width="0.10">0.2</text>
<line x1="135.7" y1="352.2" x2="138.5" y2="352.2" stroke="#262626" stroke-width="0.82"/>
<text x="132.8" y="353.85" font-size="5.0" text-anchor="end" stroke="#1a1a1a" stroke-width="0.10">0.3</text>
<line x1="135.7" y1="336.9" x2="138.5" y2="336.9" stroke="#262626" stroke-width="0.82"/>
<text x="132.8" y="338.55" font-size="5.0" text-anchor="end" stroke="#1a1a1a" stroke-width="0.10">0.4</text>
<line x1="135.7" y1="321.6" x2="138.5" y2="321.6" stroke="#262626" stroke-width="0.82"/>
<text x="132.8" y="323.25" font-size="5.0" text-anchor="end" stroke="#1a1a1a" stroke-width="0.10">0.5</text>
<line x1="135.7" y1="306.3" x2="138.5" y2="306.3" stroke="#262626" stroke-width="0.82"/>
<text x="132.8" y="307.95" font-size="5.0" text-anchor="end" stroke="#1a1a1a" stroke-width="0.10">0.6</text>
<line x1="142.3" y1="393.4" x2="142.3" y2="396.2" stroke="#262626" stroke-width="0.82"/>
<text x="142.3" y="402.5" font-size="5.0" text-anchor="middle" stroke="#1a1a1a" stroke-width="0.10">0</text>
<line x1="164.35" y1="393.4" x2="164.35" y2="396.2" stroke="#262626" stroke-width="0.82"/>
<text x="164.35" y="402.5" font-size="5.0" text-anchor="middle" stroke="#1a1a1a" stroke-width="0.10">50</text>
<line x1="186.4" y1="393.4" x2="186.4" y2="396.2" stroke="#262626" stroke-width="0.82"/>
<text x="186.4" y="402.5" font-size="5.0" text-anchor="middle" stroke="#1a1a1a" stroke-width="0.10">100</text>
<line x1="208.45" y1="393.4" x2="208.45" y2="396.2" stroke="#262626" stroke-width="0.82"/>
<text x="208.45" y="402.5" font-size="5.0" text-anchor="middle" stroke="#1a1a1a" stroke-width="0.10">150</text>
<text x="177.7" y="410.85" font-size="5.6" text-anchor="middle" stroke="#1a1a1a" stroke-width="0.12">Band</text>
<text transform="translate(121.22,349.06) rotate(-90)" font-size="5.6" text-anchor="middle" stroke="#1a1a1a" stroke-width="0.12">Value</text>
<polyline points="251.4,389.3 252.8,388.1 253.9,387.72 255,387.1 255.97,386.91 256.93,386.93 257.9,386.7 258.87,386.48 259.83,386.4 260.8,386.1 261.75,385.02 262.7,383.7 263.7,382.4 264.7,380.8 265.65,381.63 266.6,382.3 267.7,383.1 268.8,383.5 270.6,384.6 271.55,385.12 272.5,385.6 273.5,374.7 274.3,352.9 275.4,334 276.4,324.5 277.8,320.2 279.3,316.5 280.7,315.1 281.9,316.5 283.4,313.6 284.5,310.7 285.5,307.8 286.6,310.7 287.7,320.9 288.9,323.8 289.9,320.2 290.9,318 292.1,321.6 292.8,368.9 294.3,364.5 295.4,361.25 296.5,358 298.2,355.1 299.15,356.36 300.1,358 301.05,359.96 302,361.6 303,363.1 303.7,382.7 305.2,379.1 306.17,378.8 307.13,378.45 308.1,378.4 309.07,377.64 310.03,377.1 311,376.5 312.3,375.91 313.6,375.5 315.4,378.4 316.45,379.93 317.5,381.3 318.6,382.41 319.7,383.7 320.9,384.6 321.9,382 322.3,384.9" fill="none" stroke="#1a9a2a" stroke-width="1.25" stroke-linejoin="round" stroke-linecap="round"/>
<rect x="248" y="303.4" width="78.4" height="90" fill="none" stroke="#262626" stroke-width="0.78"/>
<line x1="245.2" y1="392.2" x2="248" y2="392.2" stroke="#262626" stroke-width="0.82"/>
<text x="242.3" y="393.85" font-size="5.0" text-anchor="end" stroke="#1a1a1a" stroke-width="0.10">0.0</text>
<line x1="245.2" y1="381" x2="248" y2="381" stroke="#262626" stroke-width="0.82"/>
<text x="242.3" y="382.65" font-size="5.0" text-anchor="end" stroke="#1a1a1a" stroke-width="0.10">0.1</text>
<line x1="245.2" y1="369.8" x2="248" y2="369.8" stroke="#262626" stroke-width="0.82"/>
<text x="242.3" y="371.45" font-size="5.0" text-anchor="end" stroke="#1a1a1a" stroke-width="0.10">0.2</text>
<line x1="245.2" y1="358.6" x2="248" y2="358.6" stroke="#262626" stroke-width="0.82"/>
<text x="242.3" y="360.25" font-size="5.0" text-anchor="end" stroke="#1a1a1a" stroke-width="0.10">0.3</text>
<line x1="245.2" y1="347.4" x2="248" y2="347.4" stroke="#262626" stroke-width="0.82"/>
<text x="242.3" y="349.05" font-size="5.0" text-anchor="end" stroke="#1a1a1a" stroke-width="0.10">0.4</text>
<line x1="245.2" y1="336.2" x2="248" y2="336.2" stroke="#262626" stroke-width="0.82"/>
<text x="242.3" y="337.85" font-size="5.0" text-anchor="end" stroke="#1a1a1a" stroke-width="0.10">0.5</text>
<line x1="245.2" y1="325" x2="248" y2="325" stroke="#262626" stroke-width="0.82"/>
<text x="242.3" y="326.65" font-size="5.0" text-anchor="end" stroke="#1a1a1a" stroke-width="0.10">0.6</text>
<line x1="245.2" y1="313.8" x2="248" y2="313.8" stroke="#262626" stroke-width="0.82"/>
<text x="242.3" y="315.45" font-size="5.0" text-anchor="end" stroke="#1a1a1a" stroke-width="0.10">0.7</text>
<line x1="251.8" y1="393.4" x2="251.8" y2="396.2" stroke="#262626" stroke-width="0.82"/>
<text x="251.8" y="402.5" font-size="5.0" text-anchor="middle" stroke="#1a1a1a" stroke-width="0.10">0</text>
<line x1="273.85" y1="393.4" x2="273.85" y2="396.2" stroke="#262626" stroke-width="0.82"/>
<text x="273.85" y="402.5" font-size="5.0" text-anchor="middle" stroke="#1a1a1a" stroke-width="0.10">50</text>
<line x1="295.9" y1="393.4" x2="295.9" y2="396.2" stroke="#262626" stroke-width="0.82"/>
<text x="295.9" y="402.5" font-size="5.0" text-anchor="middle" stroke="#1a1a1a" stroke-width="0.10">100</text>
<line x1="317.95" y1="393.4" x2="317.95" y2="396.2" stroke="#262626" stroke-width="0.82"/>
<text x="317.95" y="402.5" font-size="5.0" text-anchor="middle" stroke="#1a1a1a" stroke-width="0.10">150</text>
<text x="287.2" y="410.85" font-size="5.6" text-anchor="middle" stroke="#1a1a1a" stroke-width="0.12">Band</text>
<text transform="translate(230.72,349.06) rotate(-90)" font-size="5.6" text-anchor="middle" stroke="#1a1a1a" stroke-width="0.12">Value</text>
<polyline points="360.4,321.6 361.1,325.3 361.8,322.4 363.3,321.6 364.4,320.74 365.5,320.6 366.55,319.74 367.6,319.5 369.1,320.2 370.2,319.68 371.3,319.2 372.7,315.8 373.8,314.81 374.9,313.6 376,312.56 377.1,311.9 378.5,310.4 379.3,307.8 380,312.2 381.5,315.8 382.9,318.7 383.9,320.9 384.8,326 385.8,320.2 386.5,323.8 387.7,323.1 388.7,326.7 390.2,332.5 390.9,339.8 391.6,333.3 393.1,336.2 394.5,339.1 395.6,357.3 396.4,361.6 397.5,358.7 398.5,349.3 399.6,351.5 401.1,359.5 402.5,361.6 404,363.1 405.5,366.7 406.55,369.95 407.6,373.3 408.7,374.77 409.8,376.9 411.3,375.5 412.7,373.3 413.9,375.5 415.6,376.2 416.7,376.06 417.8,375.5 419.3,376.9 420.25,378.68 421.2,379.8 422.9,381.7 424.4,380.5 425.8,383.5 427.3,384.2 428.4,386.4 429.5,389.3 430.2,381.3 430.9,387.1" fill="none" stroke="#000000" stroke-width="1.25" stroke-linejoin="round" stroke-linecap="round"/>
<rect x="357" y="303.4" width="78.4" height="90" fill="none" stroke="#262626" stroke-width="0.78"/>
<line x1="354.2" y1="383.6" x2="357" y2="383.6" stroke="#262626" stroke-width="0.82"/>
<text x="351.3" y="385.25" font-size="5.0" text-anchor="end" stroke="#1a1a1a" stroke-width="0.10">0.25</text>
<line x1="354.2" y1="369" x2="357" y2="369" stroke="#262626" stroke-width="0.82"/>
<text x="351.3" y="370.65" font-size="5.0" text-anchor="end" stroke="#1a1a1a" stroke-width="0.10">0.30</text>
<line x1="354.2" y1="354.4" x2="357" y2="354.4" stroke="#262626" stroke-width="0.82"/>
<text x="351.3" y="356.05" font-size="5.0" text-anchor="end" stroke="#1a1a1a" stroke-width="0.10">0.35</text>
<line x1="354.2" y1="339.8" x2="357" y2="339.8" stroke="#262626" stroke-width="0.82"/>
<text x="351.3" y="341.45" font-size="5.0" text-anchor="end" stroke="#1a1a1a" stroke-width="0.10">0.40</text>
<line x1="354.2" y1="325.2" x2="357" y2="325.2" stroke="#262626" stroke-width="0.82"/>
<text x="351.3" y="326.85" font-size="5.0" text-anchor="end" stroke="#1a1a1a" stroke-width="0.10">0.45</text>
<line x1="354.2" y1="310.6" x2="357" y2="310.6" stroke="#262626" stroke-width="0.82"/>
<text x="351.3" y="312.25" font-size="5.0" text-anchor="end" stroke="#1a1a1a" stroke-width="0.10">0.50</text>
<line x1="360.8" y1="393.4" x2="360.8" y2="396.2" stroke="#262626" stroke-width="0.82"/>
<text x="360.8" y="402.5" font-size="5.0" text-anchor="middle" stroke="#1a1a1a" stroke-width="0.10">0</text>
<line x1="382.85" y1="393.4" x2="382.85" y2="396.2" stroke="#262626" stroke-width="0.82"/>
<text x="382.85" y="402.5" font-size="5.0" text-anchor="middle" stroke="#1a1a1a" stroke-width="0.10">50</text>
<line x1="404.9" y1="393.4" x2="404.9" y2="396.2" stroke="#262626" stroke-width="0.82"/>
<text x="404.9" y="402.5" font-size="5.0" text-anchor="middle" stroke="#1a1a1a" stroke-width="0.10">100</text>
<line x1="426.95" y1="393.4" x2="426.95" y2="396.2" stroke="#262626" stroke-width="0.82"/>
<text x="426.95" y="402.5" font-size="5.0" text-anchor="middle" stroke="#1a1a1a" stroke-width="0.10">150</text>
<text x="396.2" y="410.85" font-size="5.6" text-anchor="middle" stroke="#1a1a1a" stroke-width="0.12">Band</text>
<text transform="translate(337.91,349.06) rotate(-90)" font-size="5.6" text-anchor="middle" stroke="#1a1a1a" stroke-width="0.12">Value</text>
<polyline points="469.4,389.3 471.1,389 472.3,385.6 474,382.7 475.3,381.52 476.6,380.5 478.4,378.4 479.35,375.7 480.3,373.3 481.7,368.2 483.2,363.1 484.15,360.35 485.1,357.3 486.8,352.9 488.6,349.3 490,348.8 491.5,347.1 492.45,345.67 493.4,344.2 494.8,340.5 496.3,336.9 497.25,335.8 498.2,334.7 499.6,333.3 500.3,336.2 501.4,331.1 503.1,328.2 504.6,325.3 505,330.4 506,320.9 506.95,319.33 507.9,318 509.4,315.8 510.4,314.4 511.3,321.6 512.7,316.5 514.5,313.6 515.9,311.5 517.1,310 518.1,312.2 519.5,310 521,307.8 521.7,336.2 522.9,329.6 524.6,320.9 526.1,317.3 527.8,309.3 529.3,316.5 530.7,323.8 531.9,328.9 533.7,312.9 534.8,323.8 536.3,334 538,341.3 539.2,332.5 539.9,335.5 540.3,329.6" fill="none" stroke="#0000ff" stroke-width="1.25" stroke-linejoin="round" stroke-linecap="round"/>
<rect x="465.6" y="303.4" width="78.4" height="90" fill="none" stroke="#262626" stroke-width="0.78"/>
<line x1="462.8" y1="386.4" x2="465.6" y2="386.4" stroke="#262626" stroke-width="0.82"/>
<text x="459.9" y="388.05" font-size="5.0" text-anchor="end" stroke="#1a1a1a" stroke-width="0.10">0.4</text>
<line x1="462.8" y1="373.23" x2="465.6" y2="373.23" stroke="#262626" stroke-width="0.82"/>
<text x="459.9" y="374.88" font-size="5.0" text-anchor="end" stroke="#1a1a1a" stroke-width="0.10">0.5</text>
<line x1="462.8" y1="360.07" x2="465.6" y2="360.07" stroke="#262626" stroke-width="0.82"/>
<text x="459.9" y="361.72" font-size="5.0" text-anchor="end" stroke="#1a1a1a" stroke-width="0.10">0.6</text>
<line x1="462.8" y1="346.9" x2="465.6" y2="346.9" stroke="#262626" stroke-width="0.82"/>
<text x="459.9" y="348.55" font-size="5.0" text-anchor="end" stroke="#1a1a1a" stroke-width="0.10">0.7</text>
<line x1="462.8" y1="333.73" x2="465.6" y2="333.73" stroke="#262626" stroke-width="0.82"/>
<text x="459.9" y="335.38" font-size="5.0" text-anchor="end" stroke="#1a1a1a" stroke-width="0.10">0.8</text>
<line x1="462.8" y1="320.57" x2="465.6" y2="320.57" stroke="#262626" stroke-width="0.82"/>
<text x="459.9" y="322.22" font-size="5.0" text-anchor="end" stroke="#1a1a1a" stroke-width="0.10">0.9</text>
<line x1="462.8" y1="307.4" x2="465.6" y2="307.4" stroke="#262626" stroke-width="0.82"/>
<text x="459.9" y="309.05" font-size="5.0" text-anchor="end" stroke="#1a1a1a" stroke-width="0.10">1.0</text>
<line x1="469.4" y1="393.4" x2="469.4" y2="396.2" stroke="#262626" stroke-width="0.82"/>
<text x="469.4" y="402.5" font-size="5.0" text-anchor="middle" stroke="#1a1a1a" stroke-width="0.10">0</text>
<line x1="491.45" y1="393.4" x2="491.45" y2="396.2" stroke="#262626" stroke-width="0.82"/>
<text x="491.45" y="402.5" font-size="5.0" text-anchor="middle" stroke="#1a1a1a" stroke-width="0.10">50</text>
<line x1="513.5" y1="393.4" x2="513.5" y2="396.2" stroke="#262626" stroke-width="0.82"/>
<text x="513.5" y="402.5" font-size="5.0" text-anchor="middle" stroke="#1a1a1a" stroke-width="0.10">100</text>
<line x1="535.55" y1="393.4" x2="535.55" y2="396.2" stroke="#262626" stroke-width="0.82"/>
<text x="535.55" y="402.5" font-size="5.0" text-anchor="middle" stroke="#1a1a1a" stroke-width="0.10">150</text>
<text x="504.8" y="410.85" font-size="5.6" text-anchor="middle" stroke="#1a1a1a" stroke-width="0.12">Band</text>
<text transform="translate(448.32,349.06) rotate(-90)" font-size="5.6" text-anchor="middle" stroke="#1a1a1a" stroke-width="0.12">Value</text>
<polyline points="28.4,622.8 29.3,620.7 30.5,617.6 31.7,615.8 32.9,616.8 33.7,616.01 34.5,615.8 35.55,615.02 36.6,614 37.4,613.28 38.2,612.02 39,611.5 39.8,610.46 40.6,609.48 41.4,608.7 42.2,607.82 43,607.3 43.5,600 44.2,603.6 45.7,603.6 46.9,605.4 48.1,606 49.4,602.4 50.6,600 51.6,596.9 52.8,598.7 53.8,596.65 54.8,595.1 55.75,593.62 56.7,592 57.6,586.5 58.5,589.6 59.7,587.2 60.5,587.25 61.3,588 62.2,579.8 63.4,575.6 64.3,575.06 65.2,575 66.7,574.1 68.2,576.2 69,576.45 69.8,577 70.7,567.1 71.9,561.6 72.7,561.17 73.5,560.7 74.3,559.1 75.6,557.9 76.2,555.1 76.8,559.1 78,560.7 79.2,564 80.1,565.8 80.8,561.6 81.6,569.5 82.5,578 83.5,584.1 84.4,585.3 85.3,579.2 85.9,581.1 86.5,563.4" fill="none" stroke="#ff0000" stroke-width="1.05" stroke-linejoin="round" stroke-linecap="round"/>
<rect x="25.3" y="551.3" width="65.2" height="74.7" fill="none" stroke="#262626" stroke-width="0.65"/>
<line x1="23" y1="617.7" x2="25.3" y2="617.7" stroke="#262626" stroke-width="0.68"/>
<text x="20.6" y="619.07" font-size="4.15" text-anchor="end" stroke="#1a1a1a" stroke-width="0.08">0.175</text>
<line x1="23" y1="607.55" x2="25.3" y2="607.55" stroke="#262626" stroke-width="0.68"/>
<text x="20.6" y="608.92" font-size="4.15" text-anchor="end" stroke="#1a1a1a" stroke-width="0.08">0.200</text>
<line x1="23" y1="597.4" x2="25.3" y2="597.4" stroke="#262626" stroke-width="0.68"/>
<text x="20.6" y="598.77" font-size="4.15" text-anchor="end" stroke="#1a1a1a" stroke-width="0.08">0.225</text>
<line x1="23" y1="587.25" x2="25.3" y2="587.25" stroke="#262626" stroke-width="0.68"/>
<text x="20.6" y="588.62" font-size="4.15" text-anchor="end" stroke="#1a1a1a" stroke-width="0.08">0.250</text>
<line x1="23" y1="577.1" x2="25.3" y2="577.1" stroke="#262626" stroke-width="0.68"/>
<text x="20.6" y="578.47" font-size="4.15" text-anchor="end" stroke="#1a1a1a" stroke-width="0.08">0.275</text>
<line x1="23" y1="566.95" x2="25.3" y2="566.95" stroke="#262626" stroke-width="0.68"/>
<text x="20.6" y="568.32" font-size="4.15" text-anchor="end" stroke="#1a1a1a" stroke-width="0.08">0.300</text>
<line x1="23" y1="556.8" x2="25.3" y2="556.8" stroke="#262626" stroke-width="0.68"/>
<text x="20.6" y="558.17" font-size="4.15" text-anchor="end" stroke="#1a1a1a" stroke-width="0.08">0.325</text>
<line x1="28.1" y1="626" x2="28.1" y2="628.3" stroke="#262626" stroke-width="0.68"/>
<text x="28.1" y="633.52" font-size="4.15" text-anchor="middle" stroke="#1a1a1a" stroke-width="0.08">0</text>
<line x1="46.38" y1="626" x2="46.38" y2="628.3" stroke="#262626" stroke-width="0.68"/>
<text x="46.38" y="633.52" font-size="4.15" text-anchor="middle" stroke="#1a1a1a" stroke-width="0.08">50</text>
<line x1="64.65" y1="626" x2="64.65" y2="628.3" stroke="#262626" stroke-width="0.68"/>
<text x="64.65" y="633.52" font-size="4.15" text-anchor="middle" stroke="#1a1a1a" stroke-width="0.08">100</text>
<line x1="82.92" y1="626" x2="82.92" y2="628.3" stroke="#262626" stroke-width="0.68"/>
<text x="82.92" y="633.52" font-size="4.15" text-anchor="middle" stroke="#1a1a1a" stroke-width="0.08">150</text>
<text x="57.9" y="640.53" font-size="4.65" text-anchor="middle" stroke="#1a1a1a" stroke-width="0.10">Band</text>
<text transform="translate(7.71,589.2) rotate(-90)" font-size="4.65" text-anchor="middle" stroke="#1a1a1a" stroke-width="0.10">Value</text>
<polyline points="118.4,622.8 119.45,621.87 120.5,620.7 121.3,620.21 122.1,619.93 122.9,619.4 123.73,619.08 124.57,618.9 125.4,618.5 126.3,618.17 127.2,617.6 128.4,614.6 129.6,611.5 131.1,611.9 132.3,613.3 133.1,613.35 133.9,613.1 135.1,615.8 136,616.8 136.9,603.6 137.9,581.7 138.8,576.2 140,572.5 140.8,570.78 141.6,568.9 143,569.5 144.2,565.2 145.5,562.2 146.9,559.7 148.1,559.1 149.4,560.4 150.6,556.7 151.5,554.6 152.2,557.9 153,597.5 154.2,590.2 155.2,584.9 156.2,579.2 157.6,573.8 159.1,576.2 159.9,578.37 160.7,580.5 161.3,584.1 161.9,611.5 162.8,607.3 164.3,608.5 165.25,607.55 166.2,606.6 167.1,604.91 168,603.6 168.9,602.41 169.8,600.9 171,602.4 172.5,607.3 173.3,608.73 174.1,610.3 175.3,611.5 176.5,613.3 177.1,616.4" fill="none" stroke="#ffa500" stroke-width="1.05" stroke-linejoin="round" stroke-linecap="round"/>
<rect x="115.5" y="551.3" width="65.2" height="74.7" fill="none" stroke="#262626" stroke-width="0.65"/>
<line x1="113.2" y1="617.4" x2="115.5" y2="617.4" stroke="#262626" stroke-width="0.68"/>
<text x="110.8" y="618.77" font-size="4.15" text-anchor="end" stroke="#1a1a1a" stroke-width="0.08">0.1</text>
<line x1="113.2" y1="604.88" x2="115.5" y2="604.88" stroke="#262626" stroke-width="0.68"/>
<text x="110.8" y="606.25" font-size="4.15" text-anchor="end" stroke="#1a1a1a" stroke-width="0.08">0.2</text>
<line x1="113.2" y1="592.36" x2="115.5" y2="592.36" stroke="#262626" stroke-width="0.68"/>
<text x="110.8" y="593.73" font-size="4.15" text-anchor="end" stroke="#1a1a1a" stroke-width="0.08">0.3</text>
<line x1="113.2" y1="579.84" x2="115.5" y2="579.84" stroke="#262626" stroke-width="0.68"/>
<text x="110.8" y="581.21" font-size="4.15" text-anchor="end" stroke="#1a1a1a" stroke-width="0.08">0.4</text>
<line x1="113.2" y1="567.32" x2="115.5" y2="567.32" stroke="#262626" stroke-width="0.68"/>
<text x="110.8" y="568.69" font-size="4.15" text-anchor="end" stroke="#1a1a1a" stroke-width="0.08">0.5</text>
<line x1="113.2" y1="554.8" x2="115.5" y2="554.8" stroke="#262626" stroke-width="0.68"/>
<text x="110.8" y="556.17" font-size="4.15" text-anchor="end" stroke="#1a1a1a" stroke-width="0.08">0.6</text>
<line x1="118.3" y1="626" x2="118.3" y2="628.3" stroke="#262626" stroke-width="0.68"/>
<text x="118.3" y="633.52" font-size="4.15" text-anchor="middle" stroke="#1a1a1a" stroke-width="0.08">0</text>
<line x1="136.57" y1="626" x2="136.57" y2="628.3" stroke="#262626" stroke-width="0.68"/>
<text x="136.57" y="633.52" font-size="4.15" text-anchor="middle" stroke="#1a1a1a" stroke-width="0.08">50</text>
<line x1="154.85" y1="626" x2="154.85" y2="628.3" stroke="#262626" stroke-width="0.68"/>
<text x="154.85" y="633.52" font-size="4.15" text-anchor="middle" stroke="#1a1a1a" stroke-width="0.08">100</text>
<line x1="173.12" y1="626" x2="173.12" y2="628.3" stroke="#262626" stroke-width="0.68"/>
<text x="173.12" y="633.52" font-size="4.15" text-anchor="middle" stroke="#1a1a1a" stroke-width="0.08">150</text>
<text x="148.1" y="640.53" font-size="4.65" text-anchor="middle" stroke="#1a1a1a" stroke-width="0.10">Band</text>
<text transform="translate(101.12,589.2) rotate(-90)" font-size="4.65" text-anchor="middle" stroke="#1a1a1a" stroke-width="0.10">Value</text>
<polyline points="209.4,622.5 210.45,621.72 211.5,621.3 212.5,620.85 213.5,620.69 214.5,620.4 215.33,620.12 216.17,619.64 217,619.4 217.9,618.48 218.8,617.6 219.6,616.64 220.4,616 221.8,616.8 222.75,617.61 223.7,618.2 224.6,618.96 225.5,619.4 227,620 227.9,608.5 228.5,589 229.4,570.1 230.6,565.8 231.8,562.8 233,561 234.3,562.2 235.2,560.4 236.2,557.3 237.4,554.9 238.3,558.5 239.1,562.2 240.4,568.3 241.3,565.8 242.3,564 243.2,567.1 243.8,606 244.7,603.6 245.55,600.53 246.4,597.5 247.2,596.08 248,594.5 248.8,595.27 249.6,596.3 251.1,598.7 252,601.2 252.9,616.4 253.8,614.6 254.9,614.08 256,613.6 256.8,613.06 257.6,612.65 258.4,612.1 259.3,611.79 260.2,611.5 261.1,612.55 262,613.3 262.95,614.52 263.9,615.8 264.8,616.71 265.7,617.6 266.9,618.8 267.5,617 268.1,618.2" fill="none" stroke="#1a9a2a" stroke-width="1.05" stroke-linejoin="round" stroke-linecap="round"/>
<rect x="206.5" y="551.3" width="65.2" height="74.7" fill="none" stroke="#262626" stroke-width="0.65"/>
<line x1="204.2" y1="625.6" x2="206.5" y2="625.6" stroke="#262626" stroke-width="0.68"/>
<text x="201.8" y="626.97" font-size="4.15" text-anchor="end" stroke="#1a1a1a" stroke-width="0.08">0.0</text>
<line x1="204.2" y1="616.24" x2="206.5" y2="616.24" stroke="#262626" stroke-width="0.68"/>
<text x="201.8" y="617.61" font-size="4.15" text-anchor="end" stroke="#1a1a1a" stroke-width="0.08">0.1</text>
<line x1="204.2" y1="606.89" x2="206.5" y2="606.89" stroke="#262626" stroke-width="0.68"/>
<text x="201.8" y="608.26" font-size="4.15" text-anchor="end" stroke="#1a1a1a" stroke-width="0.08">0.2</text>
<line x1="204.2" y1="597.53" x2="206.5" y2="597.53" stroke="#262626" stroke-width="0.68"/>
<text x="201.8" y="598.9" font-size="4.15" text-anchor="end" stroke="#1a1a1a" stroke-width="0.08">0.3</text>
<line x1="204.2" y1="588.17" x2="206.5" y2="588.17" stroke="#262626" stroke-width="0.68"/>
<text x="201.8" y="589.54" font-size="4.15" text-anchor="end" stroke="#1a1a1a" stroke-width="0.08">0.4</text>
<line x1="204.2" y1="578.81" x2="206.5" y2="578.81" stroke="#262626" stroke-width="0.68"/>
<text x="201.8" y="580.18" font-size="4.15" text-anchor="end" stroke="#1a1a1a" stroke-width="0.08">0.5</text>
<line x1="204.2" y1="569.46" x2="206.5" y2="569.46" stroke="#262626" stroke-width="0.68"/>
<text x="201.8" y="570.83" font-size="4.15" text-anchor="end" stroke="#1a1a1a" stroke-width="0.08">0.6</text>
<line x1="204.2" y1="560.1" x2="206.5" y2="560.1" stroke="#262626" stroke-width="0.68"/>
<text x="201.8" y="561.47" font-size="4.15" text-anchor="end" stroke="#1a1a1a" stroke-width="0.08">0.7</text>
<line x1="209.3" y1="626" x2="209.3" y2="628.3" stroke="#262626" stroke-width="0.68"/>
<text x="209.3" y="633.52" font-size="4.15" text-anchor="middle" stroke="#1a1a1a" stroke-width="0.08">0</text>
<line x1="227.58" y1="626" x2="227.58" y2="628.3" stroke="#262626" stroke-width="0.68"/>
<text x="227.58" y="633.52" font-size="4.15" text-anchor="middle" stroke="#1a1a1a" stroke-width="0.08">50</text>
<line x1="245.85" y1="626" x2="245.85" y2="628.3" stroke="#262626" stroke-width="0.68"/>
<text x="245.85" y="633.52" font-size="4.15" text-anchor="middle" stroke="#1a1a1a" stroke-width="0.08">100</text>
<line x1="264.12" y1="626" x2="264.12" y2="628.3" stroke="#262626" stroke-width="0.68"/>
<text x="264.12" y="633.52" font-size="4.15" text-anchor="middle" stroke="#1a1a1a" stroke-width="0.08">150</text>
<text x="239.1" y="640.53" font-size="4.65" text-anchor="middle" stroke="#1a1a1a" stroke-width="0.10">Band</text>
<text transform="translate(192.12,589.2) rotate(-90)" font-size="4.65" text-anchor="middle" stroke="#1a1a1a" stroke-width="0.10">Value</text>
<polyline points="299.9,566.4 300.6,569.5 301.5,567.1 302.4,566.46 303.3,566.1 304.2,565.39 305.1,565.2 306.05,565.3 307,564.9 308.2,565.6 309.4,563.4 310.6,561.2 311.5,560.49 312.4,559.7 313.35,558.8 314.3,557.9 315.2,555.1 316.1,559.1 317.3,562.2 318.5,564 319.4,565.2 320.1,569.5 321,565.8 321.8,568.3 322.8,568.9 324,573.8 325,581.1 325.6,576.8 327.1,579.2 328.3,581.7 328.9,591.4 329.5,598.1 330.4,600 331.1,597.5 331.9,589 332.8,591.4 333.8,598.7 335,600 336.2,601.2 337.4,604.2 338.3,606.74 339.2,609.7 340.15,610.9 341.1,612.7 342.3,611.5 343.5,609.7 344.5,610.9 345.9,611.5 346.85,611.08 347.8,611.2 349,612.7 349.8,613.97 350.6,614.6 352,616.4 353.3,615.8 354.5,617.6 355.9,618.2 356.9,620 357.5,622.5 358.1,615.8 358.7,620.7" fill="none" stroke="#000000" stroke-width="1.05" stroke-linejoin="round" stroke-linecap="round"/>
<rect x="296.8" y="551.3" width="65.2" height="74.7" fill="none" stroke="#262626" stroke-width="0.65"/>
<line x1="294.5" y1="617.9" x2="296.8" y2="617.9" stroke="#262626" stroke-width="0.68"/>
<text x="292.1" y="619.27" font-size="4.15" text-anchor="end" stroke="#1a1a1a" stroke-width="0.08">0.25</text>
<line x1="294.5" y1="605.86" x2="296.8" y2="605.86" stroke="#262626" stroke-width="0.68"/>
<text x="292.1" y="607.23" font-size="4.15" text-anchor="end" stroke="#1a1a1a" stroke-width="0.08">0.30</text>
<line x1="294.5" y1="593.82" x2="296.8" y2="593.82" stroke="#262626" stroke-width="0.68"/>
<text x="292.1" y="595.19" font-size="4.15" text-anchor="end" stroke="#1a1a1a" stroke-width="0.08">0.35</text>
<line x1="294.5" y1="581.78" x2="296.8" y2="581.78" stroke="#262626" stroke-width="0.68"/>
<text x="292.1" y="583.15" font-size="4.15" text-anchor="end" stroke="#1a1a1a" stroke-width="0.08">0.40</text>
<line x1="294.5" y1="569.74" x2="296.8" y2="569.74" stroke="#262626" stroke-width="0.68"/>
<text x="292.1" y="571.11" font-size="4.15" text-anchor="end" stroke="#1a1a1a" stroke-width="0.08">0.45</text>
<line x1="294.5" y1="557.7" x2="296.8" y2="557.7" stroke="#262626" stroke-width="0.68"/>
<text x="292.1" y="559.07" font-size="4.15" text-anchor="end" stroke="#1a1a1a" stroke-width="0.08">0.50</text>
<line x1="299.6" y1="626" x2="299.6" y2="628.3" stroke="#262626" stroke-width="0.68"/>
<text x="299.6" y="633.52" font-size="4.15" text-anchor="middle" stroke="#1a1a1a" stroke-width="0.08">0</text>
<line x1="317.88" y1="626" x2="317.88" y2="628.3" stroke="#262626" stroke-width="0.68"/>
<text x="317.88" y="633.52" font-size="4.15" text-anchor="middle" stroke="#1a1a1a" stroke-width="0.08">50</text>
<line x1="336.15" y1="626" x2="336.15" y2="628.3" stroke="#262626" stroke-width="0.68"/>
<text x="336.15" y="633.52" font-size="4.15" text-anchor="middle" stroke="#1a1a1a" stroke-width="0.08">100</text>
<line x1="354.43" y1="626" x2="354.43" y2="628.3" stroke="#262626" stroke-width="0.68"/>
<text x="354.43" y="633.52" font-size="4.15" text-anchor="middle" stroke="#1a1a1a" stroke-width="0.08">150</text>
<text x="329.4" y="640.53" font-size="4.65" text-anchor="middle" stroke="#1a1a1a" stroke-width="0.10">Band</text>
<text transform="translate(280.92,589.2) rotate(-90)" font-size="4.65" text-anchor="middle" stroke="#1a1a1a" stroke-width="0.10">Value</text>
<polyline points="390.6,620.3 391.5,622.7 392.3,621.26 393.1,619.5 393.9,617.7 394.7,616.2 395.55,615.08 396.4,613.7 397.2,612.45 398,611.3 399.3,608.8 400.5,602.3 401.6,594.1 402.6,589.2 403.7,577.7 404.5,564.6 405.4,557.3 406.2,554.8 407.5,557.3 408.6,558.9 409.8,560.5 410.8,558.9 411.4,563 412.4,560.5 413.5,563 414.7,564.6 415.7,572.8 416.3,566.3 417.6,567.9 418.9,571.2 419.6,576.9 420.6,572 421.7,574.5 422.9,573.6 424.2,579.4 425,564.6 426.1,569.5 427.5,571.2 428.8,568.7 429.75,569.43 430.7,570.4 431.7,569.78 432.7,569.5 434,571.2 434.8,558.9 436,563 437.3,560.5 438.6,557.3 439.2,563 440.5,566.3 441.9,575.3 442.7,575.88 443.5,576.1 444.3,579.38 445.1,582.6 446.3,589.2 447.1,593.3 448.4,590 449.5,585.9" fill="none" stroke="#0000ff" stroke-width="1.05" stroke-linejoin="round" stroke-linecap="round"/>
<rect x="387.5" y="551.3" width="65.2" height="74.7" fill="none" stroke="#262626" stroke-width="0.65"/>
<line x1="385.2" y1="616.1" x2="387.5" y2="616.1" stroke="#262626" stroke-width="0.68"/>
<text x="382.8" y="617.47" font-size="4.15" text-anchor="end" stroke="#1a1a1a" stroke-width="0.08">0.20</text>
<line x1="385.2" y1="603.84" x2="387.5" y2="603.84" stroke="#262626" stroke-width="0.68"/>
<text x="382.8" y="605.21" font-size="4.15" text-anchor="end" stroke="#1a1a1a" stroke-width="0.08">0.25</text>
<line x1="385.2" y1="591.58" x2="387.5" y2="591.58" stroke="#262626" stroke-width="0.68"/>
<text x="382.8" y="592.95" font-size="4.15" text-anchor="end" stroke="#1a1a1a" stroke-width="0.08">0.30</text>
<line x1="385.2" y1="579.32" x2="387.5" y2="579.32" stroke="#262626" stroke-width="0.68"/>
<text x="382.8" y="580.69" font-size="4.15" text-anchor="end" stroke="#1a1a1a" stroke-width="0.08">0.35</text>
<line x1="385.2" y1="567.06" x2="387.5" y2="567.06" stroke="#262626" stroke-width="0.68"/>
<text x="382.8" y="568.43" font-size="4.15" text-anchor="end" stroke="#1a1a1a" stroke-width="0.08">0.40</text>
<line x1="385.2" y1="554.8" x2="387.5" y2="554.8" stroke="#262626" stroke-width="0.68"/>
<text x="382.8" y="556.17" font-size="4.15" text-anchor="end" stroke="#1a1a1a" stroke-width="0.08">0.45</text>
<line x1="390.3" y1="626" x2="390.3" y2="628.3" stroke="#262626" stroke-width="0.68"/>
<text x="390.3" y="633.52" font-size="4.15" text-anchor="middle" stroke="#1a1a1a" stroke-width="0.08">0</text>
<line x1="408.57" y1="626" x2="408.57" y2="628.3" stroke="#262626" stroke-width="0.68"/>
<text x="408.57" y="633.52" font-size="4.15" text-anchor="middle" stroke="#1a1a1a" stroke-width="0.08">50</text>
<line x1="426.85" y1="626" x2="426.85" y2="628.3" stroke="#262626" stroke-width="0.68"/>
<text x="426.85" y="633.52" font-size="4.15" text-anchor="middle" stroke="#1a1a1a" stroke-width="0.08">100</text>
<line x1="445.12" y1="626" x2="445.12" y2="628.3" stroke="#262626" stroke-width="0.68"/>
<text x="445.12" y="633.52" font-size="4.15" text-anchor="middle" stroke="#1a1a1a" stroke-width="0.08">150</text>
<text x="420.1" y="640.53" font-size="4.65" text-anchor="middle" stroke="#1a1a1a" stroke-width="0.10">Band</text>
<text transform="translate(371.62,589.2) rotate(-90)" font-size="4.65" text-anchor="middle" stroke="#1a1a1a" stroke-width="0.10">Value</text>
<polyline points="481.4,622.8 482.9,620.7 483.8,619.28 484.7,617.6 485.5,616.8 486.3,615.96 487.1,615.2 488.05,613.69 489,612.1 489.9,609.01 490.8,606 491.6,603.48 492.4,601.2 493.8,596.3 494.75,593.99 495.7,592 497.2,590.2 498.1,588.96 499,588 500.5,584.7 501.3,582.73 502.1,581.1 503.6,578.3 505,576.2 506.3,577.4 507.2,574.4 508.7,571.9 509.9,569.5 510.6,573.1 511.9,565.2 513.3,562.8 514.8,561 515.5,565.8 517,560.4 517.9,559.42 518.8,558.5 519.6,557.94 520.4,557.3 521.6,558.5 522.8,556.7 523.7,554.9 524.3,578 525.3,573.1 526.7,565.2 527.9,562.2 529.2,556.1 530.4,563.4 531.6,569.5 532.8,574.4 534.3,559.7 535.3,568.3 536.5,576.8 537.7,582.9 538.9,576.8 539.5,573.1 540.1,576.8" fill="none" stroke="#ffb6c1" stroke-width="1.05" stroke-linejoin="round" stroke-linecap="round"/>
<rect x="478.3" y="551.3" width="65.2" height="74.7" fill="none" stroke="#262626" stroke-width="0.65"/>
<line x1="476" y1="620.3" x2="478.3" y2="620.3" stroke="#262626" stroke-width="0.68"/>
<text x="473.6" y="621.67" font-size="4.15" text-anchor="end" stroke="#1a1a1a" stroke-width="0.08">0.4</text>
<line x1="476" y1="609.3" x2="478.3" y2="609.3" stroke="#262626" stroke-width="0.68"/>
<text x="473.6" y="610.67" font-size="4.15" text-anchor="end" stroke="#1a1a1a" stroke-width="0.08">0.5</text>
<line x1="476" y1="598.3" x2="478.3" y2="598.3" stroke="#262626" stroke-width="0.68"/>
<text x="473.6" y="599.67" font-size="4.15" text-anchor="end" stroke="#1a1a1a" stroke-width="0.08">0.6</text>
<line x1="476" y1="587.3" x2="478.3" y2="587.3" stroke="#262626" stroke-width="0.68"/>
<text x="473.6" y="588.67" font-size="4.15" text-anchor="end" stroke="#1a1a1a" stroke-width="0.08">0.7</text>
<line x1="476" y1="576.3" x2="478.3" y2="576.3" stroke="#262626" stroke-width="0.68"/>
<text x="473.6" y="577.67" font-size="4.15" text-anchor="end" stroke="#1a1a1a" stroke-width="0.08">0.8</text>
<line x1="476" y1="565.3" x2="478.3" y2="565.3" stroke="#262626" stroke-width="0.68"/>
<text x="473.6" y="566.67" font-size="4.15" text-anchor="end" stroke="#1a1a1a" stroke-width="0.08">0.9</text>
<line x1="476" y1="554.3" x2="478.3" y2="554.3" stroke="#262626" stroke-width="0.68"/>
<text x="473.6" y="555.67" font-size="4.15" text-anchor="end" stroke="#1a1a1a" stroke-width="0.08">1.0</text>
<line x1="481.1" y1="626" x2="481.1" y2="628.3" stroke="#262626" stroke-width="0.68"/>
<text x="481.1" y="633.52" font-size="4.15" text-anchor="middle" stroke="#1a1a1a" stroke-width="0.08">0</text>
<line x1="499.38" y1="626" x2="499.38" y2="628.3" stroke="#262626" stroke-width="0.68"/>
<text x="499.38" y="633.52" font-size="4.15" text-anchor="middle" stroke="#1a1a1a" stroke-width="0.08">50</text>
<line x1="517.65" y1="626" x2="517.65" y2="628.3" stroke="#262626" stroke-width="0.68"/>
<text x="517.65" y="633.52" font-size="4.15" text-anchor="middle" stroke="#1a1a1a" stroke-width="0.08">100</text>
<line x1="535.93" y1="626" x2="535.93" y2="628.3" stroke="#262626" stroke-width="0.68"/>
<text x="535.93" y="633.52" font-size="4.15" text-anchor="middle" stroke="#1a1a1a" stroke-width="0.08">150</text>
<text x="510.9" y="640.53" font-size="4.65" text-anchor="middle" stroke="#1a1a1a" stroke-width="0.10">Band</text>
<text transform="translate(463.92,589.2) rotate(-90)" font-size="4.65" text-anchor="middle" stroke="#1a1a1a" stroke-width="0.10">Value</text>
<svg x="39.2" y="157.2" width="96" height="96" viewBox="0 0 100 100" preserveAspectRatio="none" overflow="hidden">
<g filter="url(#mblur)"><rect x="-3" y="-3" width="106" height="106" fill="#440154"/><polygon points="0,0 70,0 70,9 0,15" fill="#000" filter="url(#tx_tpl)" opacity="1"/><polygon points="70,0 100,0 100,3 70,8" fill="#000" filter="url(#tx_pb)" opacity="1"/><polygon points="0,15 57,10 57,48 0,34" fill="#000" filter="url(#tx_tpl)" opacity="1"/><polygon points="0,34 40,41 37,100 0,100" fill="#000" filter="url(#tx_tp)" opacity="1"/><path d="M0 38l36 9M0 43l36 9M0 48l36 9M0 53l36 9M0 58l36 9M0 63l36 9M0 68l36 9M0 73l36 9M0 78l36 9M0 83l36 9M0 88l36 9M0 93l36 9M0 98l36 9" stroke="#1f988b" stroke-width="0.8" opacity="0.8" fill="none"/><polyline points="11,36 9,100" fill="none" stroke="#1f988b" stroke-width="0.9" opacity="1" stroke-linejoin="round" stroke-linecap="round"/><polyline points="33,41 31,100" fill="none" stroke="#35b779" stroke-width="1.0" opacity="1" stroke-linejoin="round" stroke-linecap="round"/><polygon points="38,50 72,56 68,88 36,88" fill="#000" filter="url(#tx_pb)" opacity="1"/><polygon points="86,6 100,4 100,60 86,60" fill="#000" filter="url(#tx_pb)" opacity="1"/><polygon points="72,54 86,52 84,66 72,64" fill="#000" filter="url(#tx_bt)" opacity="0.8"/><ellipse cx="93" cy="68" rx="7" ry="4" fill="#31688e" opacity="0.85"/><ellipse cx="52" cy="66" rx="9" ry="7" fill="#39568c" opacity="0.55"/><polygon points="56,11 86,7 86,17 56,17" fill="#23888e" opacity="1"/><polygon points="50,14 57,12 57,48 50,46" fill="#000" filter="url(#tx_tp)" opacity="1"/><polyline points="57,13 56,47 84,48" fill="none" stroke="#1f988b" stroke-width="1.3" opacity="1" stroke-linejoin="round" stroke-linecap="round"/><polygon points="59.5,15.5 80.7,19.5 84,27 79,31 59,30" fill="#fde725" opacity="1"/><polygon points="57,16 60,16 59,35 56.5,35" fill="#d2e21b" opacity="1"/><rect x="60" y="31" width="20" height="14.5" fill="#440154" opacity="1"/><rect x="77" y="38" width="3" height="7" fill="#d2e21b" opacity="0.85"/><polyline points="0,14.2 50,10.9 86,5.8 100,3.5" fill="none" stroke="#7ad151" stroke-width="2.8" opacity="1" stroke-linejoin="round" stroke-linecap="round"/><polyline points="0,14.2 50,10.9 86,5.8 100,3.5" fill="none" stroke="#a5db36" stroke-width="1.4" opacity="1" stroke-linejoin="round" stroke-linecap="round"/><polyline points="0,33.6 50,41.8 81,52.5" fill="none" stroke="#35b779" stroke-width="1.1" opacity="1" stroke-linejoin="round" stroke-linecap="round"/><polyline points="85.3,9 88,30 84.3,47.3 78,55 72,64 69,78 66,90 64,100" fill="none" stroke="#35b779" stroke-width="1.0" opacity="1" stroke-linejoin="round" stroke-linecap="round"/><polyline points="17,43 24,43 24,52 17,52 17,43" fill="none" stroke="#fde725" stroke-width="1.2" opacity="1" stroke-linejoin="round" stroke-linecap="round"/><rect x="44.5" y="46.4" width="3.5" height="3.6" fill="#7ad151" opacity="1"/><rect x="16" y="58" width="9" height="11" fill="#23888e" opacity="1"/></g>
</svg>
<rect x="39.2" y="157.2" width="96" height="96" fill="none" stroke="#262626" stroke-width="0.8"/>
<text transform="translate(87.2,276.5) scale(1,1.1)" font-size="11.2" text-anchor="middle" stroke="#1a1a1a" stroke-width="0.336">Asphalt</text>
<svg x="173.2" y="157.2" width="96" height="96" viewBox="0 0 100 100" preserveAspectRatio="none" overflow="hidden">
<g filter="url(#mblur)"><rect x="-3" y="-3" width="106" height="106" fill="#000" filter="url(#tx_tpm)"/><polygon points="0,0 56,0 56,11 0,14" fill="#000" filter="url(#tx_tpl)" opacity="1"/><polygon points="56,0 70,0 70,9 56,11" fill="#000" filter="url(#tx_pt)" opacity="1"/><polygon points="70,0 100,0 100,6 70,9" fill="#000" filter="url(#tx_gt)" opacity="1"/><polyline points="0,14.5 60,11 100,5.5" fill="none" stroke="#440154" stroke-width="2.8" opacity="1" stroke-linejoin="round" stroke-linecap="round"/><polygon points="31,22 53,19 53,45 31,45" fill="#000" filter="url(#tx_tp)" opacity="1"/><polygon points="14,40 36,40 36,70 14,70" fill="#000" filter="url(#tx_gt)" opacity="1"/><rect x="18" y="57" width="8" height="10" fill="#440154" opacity="0.9"/><polygon points="86,8 100,6 100,50 86,50" fill="#000" filter="url(#tx_tp)" opacity="1"/><polygon points="53,13 86,11 86,52 53,50" fill="#000" filter="url(#tx_gt)" opacity="1"/><polygon points="56.5,15.5 83.5,15.5 83.5,49 56.5,48" fill="#440154" opacity="1"/><polygon points="35,51 73,53 71,86 34,86" fill="#000" filter="url(#tx_gy)" opacity="1"/><polygon points="73,52 100,50 100,86 71,86" fill="#000" filter="url(#tx_gy)" opacity="1"/><ellipse cx="52" cy="70" rx="9" ry="7" fill="#000" filter="url(#tx_yy)" opacity="0.9"/><ellipse cx="95" cy="67" rx="6" ry="6" fill="#000" filter="url(#tx_yy)" opacity="0.8"/><ellipse cx="93" cy="53" rx="6" ry="2.5" fill="#d2e21b" opacity="0.7"/><polyline points="80,52 73,64 70,86" fill="none" stroke="#440154" stroke-width="1.5" opacity="1" stroke-linejoin="round" stroke-linecap="round"/><polygon points="0,86 100,86 100,100 0,100" fill="#000" filter="url(#tx_tpm)" opacity="1"/></g>
</svg>
<rect x="173.2" y="157.2" width="96" height="96" fill="none" stroke="#262626" stroke-width="0.8"/>
<text transform="translate(221.2,276.5) scale(1,1.1)" font-size="11.2" text-anchor="middle" stroke="#1a1a1a" stroke-width="0.336">Grass</text>
<svg x="307" y="157.2" width="96" height="96" viewBox="0 0 100 100" preserveAspectRatio="none" overflow="hidden">
<g filter="url(#mblur)"><rect x="-3" y="-3" width="106" height="106" fill="#440154"/><polygon points="0,0 62,0 60,11 0,15" fill="#000" filter="url(#tx_ptd)" opacity="1"/><path d="M8 0l-0.5 9M27 0l-0.5 9M33 0l-0.5 9M45 0l-0.5 9" stroke="#7ad151" stroke-width="1.0" opacity="0.9" fill="none"/><polyline points="0,15 60,11 100,6" fill="none" stroke="#440154" stroke-width="2.4" opacity="1" stroke-linejoin="round" stroke-linecap="round"/><polygon points="0,16 25,14 25,30 0,32" fill="#000" filter="url(#tx_ptd)" opacity="1"/><polygon points="22,18 56,13 55,44 32,48" fill="#000" filter="url(#tx_py)" opacity="1"/><polygon points="26,16 52,13 50,24 28,26" fill="#000" filter="url(#tx_gy)" opacity="0.7"/><polygon points="0,30 36,40 34,100 0,100" fill="#000" filter="url(#tx_py)" opacity="1"/><path d="M0 32l34 13M0 37.2l34 13M0 42.4l34 13M0 47.6l34 13M0 52.8l34 13M0 58l34 13M0 63.2l34 13M0 68.4l34 13M0 73.6l34 13M0 78.8l34 13M0 84l34 13M0 89.2l34 13" stroke="#7ad151" stroke-width="1.1" opacity="0.9" fill="none"/><polyline points="36,40 33,100" fill="none" stroke="#7ad151" stroke-width="1.5" opacity="1" stroke-linejoin="round" stroke-linecap="round"/><polygon points="30,84 66,82 66,100 28,100" fill="#000" filter="url(#tx_yy)" opacity="1"/><polygon points="60,56 100,52 100,100 64,100" fill="#000" filter="url(#tx_btd)" opacity="1"/><ellipse cx="68" cy="67" rx="7" ry="7" fill="#440154" opacity="0.85"/><polygon points="56,8 96,4 94,55 60,55" fill="#440154" opacity="1"/><polygon points="90,8 100,6 100,50 92,50" fill="#000" filter="url(#tx_pt)" opacity="1"/><polygon points="38,46 60,50 60,82 38,82" fill="#000" filter="url(#tx_ptd)" opacity="1"/><polyline points="38,44 60,56" fill="none" stroke="#54c568" stroke-width="1.0" opacity="1" stroke-linejoin="round" stroke-linecap="round"/><polyline points="76,53 96,58" fill="none" stroke="#000" filter="url(#tx_gy)" stroke-width="2.2" opacity="1" stroke-linejoin="round" stroke-linecap="round"/></g>
</svg>
<rect x="307" y="157.2" width="96" height="96" fill="none" stroke="#262626" stroke-width="0.8"/>
<text transform="translate(355,276.5) scale(1,1.1)" font-size="11.2" text-anchor="middle" stroke="#1a1a1a" stroke-width="0.336">Tree</text>
<svg x="440.8" y="157.2" width="96" height="96" viewBox="0 0 100 100" preserveAspectRatio="none" overflow="hidden">
<g filter="url(#mblur)"><rect x="-3" y="-3" width="106" height="106" fill="#440154"/><polygon points="0,0 58,0 55,12 42,40 31,100 0,100" fill="#000" filter="url(#tx_ptr)" opacity="1"/><polygon points="0,0 10,0 8,100 0,100" fill="#000" filter="url(#tx_pt)" opacity="1"/><path d="M0 40l30 8M0 45.5l30 8M0 51l30 8M0 56.5l30 8M0 62l30 8M0 67.5l30 8M0 73l30 8M0 78.5l30 8M0 84l30 8M0 89.5l30 8M0 95l30 8" stroke="#23888e" stroke-width="0.5" opacity="0.5" fill="none"/><polyline points="52,12 56,50 85,50 88,12" fill="none" stroke="#472f7d" stroke-width="0.8" opacity="0.7" stroke-linejoin="round" stroke-linecap="round"/><polyline points="80,50 70,70 66,100" fill="none" stroke="#472f7d" stroke-width="0.7" opacity="0.6" stroke-linejoin="round" stroke-linecap="round"/><polygon points="56,38 57.5,30.5 79,33 79,41 76.5,41 76.5,47.5 57.5,46" fill="#39568c" opacity="1"/><polygon points="57.8,31 79,33.5 79,40.5 76.2,40.5 76.2,46.5 57.8,44.8" fill="#fde725" opacity="1"/></g>
</svg>
<rect x="440.8" y="157.2" width="96" height="96" fill="none" stroke="#262626" stroke-width="0.8"/>
<text transform="translate(488.8,276.5) scale(1,1.1)" font-size="11.2" text-anchor="middle" stroke="#1a1a1a" stroke-width="0.336">Roof</text>
<svg x="29.4" y="427.4" width="78.4" height="78.4" viewBox="0 0 100 100" preserveAspectRatio="none" overflow="hidden">
<g filter="url(#mblur)"><rect x="-3" y="-3" width="106" height="106" fill="#440154"/><polygon points="0,0 62,0 60,11 0,15" fill="#000" filter="url(#tx_pt)" opacity="1"/><path d="M6 1l-1 9M13.5 1l-1 9M21 1l-1 9M28.5 1l-1 9M36 1l-1 9M43.5 1l-1 9M51 1l-1 9M58.5 1l-1 9" stroke="#23888e" stroke-width="1.0" opacity="0.7" fill="none"/><polygon points="0,15 56,11 56,44 34,42 31,100 0,100" fill="#000" filter="url(#tx_ptd)" opacity="1"/><path d="M9 18l-3 26M15.2 18l-3 26M21.4 18l-3 26M27.6 18l-3 26M33.8 18l-3 26M40 18l-3 26M46.2 18l-3 26M52.4 18l-3 26" stroke="#1f988b" stroke-width="0.9" opacity="0.9" fill="none"/><path d="M0 46l32 6M0 51.5l32 6M0 57l32 6M0 62.5l32 6M0 68l32 6M0 73.5l32 6M0 79l32 6M0 84.5l32 6M0 90l32 6M0 95.5l32 6" stroke="#1f988b" stroke-width="0.8" opacity="0.75" fill="none"/><polyline points="15.3,44 11,100" fill="none" stroke="#1f988b" stroke-width="0.9" opacity="1" stroke-linejoin="round" stroke-linecap="round"/><polyline points="30.6,44 26.9,100" fill="none" stroke="#1f988b" stroke-width="0.9" opacity="1" stroke-linejoin="round" stroke-linecap="round"/><polygon points="30,15 56,12 56,19 30,21" fill="#23888e" opacity="0.7"/><polygon points="34,50 72,58 64,100 30,100" fill="#481a6c" opacity="0.3"/><polygon points="59,15.5 81,17.5 84,26 80,31 74,34 59,33" fill="#000" filter="url(#tx_yy)" opacity="1"/><polygon points="60,16 80,18 82,27 60,30" fill="#fde725" opacity="0.8"/><polygon points="60,33.5 79,34 79,46 60,46" fill="#000" filter="url(#tx_pb)" opacity="1"/><polyline points="56.5,14 55.5,46 80,50" fill="none" stroke="#1f988b" stroke-width="1.0" opacity="1" stroke-linejoin="round" stroke-linecap="round"/><rect x="77.5" y="39" width="3" height="7" fill="#d2e21b" opacity="1"/><polyline points="0,14.2 50,11 86,5.8 100,3.3" fill="none" stroke="#a5db36" stroke-width="3.6" opacity="1" stroke-linejoin="round" stroke-linecap="round"/><polyline points="0,14.2 50,11 86,5.8 100,3.3" fill="none" stroke="#d2e21b" stroke-width="1.6" opacity="1" stroke-linejoin="round" stroke-linecap="round"/><polyline points="62,7 100,1.5" fill="none" stroke="#1f988b" stroke-width="0.6" opacity="1" stroke-linejoin="round" stroke-linecap="round"/><polyline points="0,32.4 51,43.6 81,52" fill="none" stroke="#35b779" stroke-width="1.1" opacity="1" stroke-linejoin="round" stroke-linecap="round"/><polyline points="85.3,8 88,28 84,46 78,54 72,64 69,78 66,100" fill="none" stroke="#1f988b" stroke-width="0.9" opacity="1" stroke-linejoin="round" stroke-linecap="round"/><polyline points="17.5,43 24.5,43 24.5,51.5 17.5,51.5 17.5,43" fill="none" stroke="#fde725" stroke-width="1.4" opacity="1" stroke-linejoin="round" stroke-linecap="round"/><rect x="44" y="46" width="4" height="4" fill="#54c568" opacity="1"/><rect x="19.5" y="63" width="7.5" height="6.5" fill="#35b779" opacity="1"/></g>
</svg>
<rect x="29.4" y="427.4" width="78.4" height="78.4" fill="none" stroke="#262626" stroke-width="0.8"/>
<text transform="translate(68.6,524.6) scale(1,1.1)" font-size="9.3" text-anchor="middle" stroke="#1a1a1a" stroke-width="0.279">Asphalt</text>
<svg x="138.3" y="427.4" width="78.4" height="78.4" viewBox="0 0 100 100" preserveAspectRatio="none" overflow="hidden">
<g filter="url(#mblur)"><rect x="-3" y="-3" width="106" height="106" fill="#000" filter="url(#tx_ptd)"/><polygon points="0,0 62,0 60,11 0,15" fill="#000" filter="url(#tx_ptd)" opacity="1"/><polygon points="8,0 42,0 41,11 8,12" fill="#000" filter="url(#tx_gt)" opacity="1"/><path d="M12 1l-1 9M17 1l-1 9M22 1l-1 9M27 1l-1 9M32 1l-1 9M37 1l-1 9" stroke="#7ad151" stroke-width="1.4" opacity="0.9" fill="none"/><polygon points="30,20 53,17 53,45 36,45" fill="#000" filter="url(#tx_tp)" opacity="1"/><polygon points="72,0 100,0 100,5 72,9" fill="#000" filter="url(#tx_gt)" opacity="1"/><polyline points="0,15 60,11 100,6" fill="none" stroke="#440154" stroke-width="2.4" opacity="1" stroke-linejoin="round" stroke-linecap="round"/><polygon points="86,10 100,6 100,48 84,48" fill="#000" filter="url(#tx_gt)" opacity="1"/><ellipse cx="95" cy="36" rx="5" ry="6" fill="#000" filter="url(#tx_yy)" opacity="0.9"/><polygon points="25,40 36,38 36,48 25,50" fill="#000" filter="url(#tx_gy)" opacity="1"/><polygon points="14,50 30,50 30,58 14,58" fill="#000" filter="url(#tx_gt)" opacity="1"/><polygon points="53,13 86,11 86,50 53,50" fill="#000" filter="url(#tx_gt)" opacity="1"/><polygon points="56.5,15.5 83,15.5 82,48 56.5,46" fill="#440154" opacity="1"/><polygon points="36,50 74,53 72,88 34,88" fill="#000" filter="url(#tx_gy)" opacity="1"/><polygon points="74,50 100,50 100,88 72,88" fill="#000" filter="url(#tx_yy)" opacity="1"/><ellipse cx="54" cy="72" rx="10" ry="7" fill="#000" filter="url(#tx_yy)" opacity="0.8"/><polyline points="78,52 73,64 70,88" fill="none" stroke="#440154" stroke-width="1.4" opacity="1" stroke-linejoin="round" stroke-linecap="round"/><polygon points="0,88 100,86 100,100 0,100" fill="#000" filter="url(#tx_ptd)" opacity="1"/></g>
</svg>
<rect x="138.3" y="427.4" width="78.4" height="78.4" fill="none" stroke="#262626" stroke-width="0.8"/>
<text transform="translate(177.5,524.6) scale(1,1.1)" font-size="9.3" text-anchor="middle" stroke="#1a1a1a" stroke-width="0.279">Grass</text>
<svg x="247.6" y="427.4" width="78.4" height="78.4" viewBox="0 0 100 100" preserveAspectRatio="none" overflow="hidden">
<g filter="url(#mblur)"><rect x="-3" y="-3" width="106" height="106" fill="#440154"/><polygon points="0,0 62,0 60,11 0,15" fill="#000" filter="url(#tx_ptd)" opacity="1"/><path d="M22 0l-0.5 8M28 0l-0.5 8M8 2l-0.5 8" stroke="#7ad151" stroke-width="1.0" opacity="0.9" fill="none"/><polygon points="0,14 22,12 20,30 0,30" fill="#000" filter="url(#tx_pt)" opacity="1"/><polygon points="18,20 52,12 55,22 45,46 30,46" fill="#000" filter="url(#tx_py)" opacity="1"/><polygon points="22,22 50,14 52,20 30,28" fill="#000" filter="url(#tx_gy)" opacity="0.8"/><polygon points="0,28 34,38 33,80 0,80" fill="#000" filter="url(#tx_py)" opacity="1"/><polygon points="0,40 16,42 15,80 0,80" fill="#000" filter="url(#tx_gy)" opacity="0.6"/><path d="M0 32l34 10M0 37.2l34 10M0 42.4l34 10M0 47.6l34 10M0 52.8l34 10M0 58l34 10M0 63.2l34 10M0 68.4l34 10M0 73.6l34 10M0 78.8l34 10" stroke="#7ad151" stroke-width="0.9" opacity="0.85" fill="none"/><polyline points="37,40 33,100" fill="none" stroke="#7ad151" stroke-width="1.3" opacity="1" stroke-linejoin="round" stroke-linecap="round"/><polyline points="40,45 62,60" fill="none" stroke="#54c568" stroke-width="1.0" opacity="1" stroke-linejoin="round" stroke-linecap="round"/><polyline points="45,56 62,75" fill="none" stroke="#1f988b" stroke-width="0.9" opacity="1" stroke-linejoin="round" stroke-linecap="round"/><polygon points="0,78 76,80 76,100 0,100" fill="#000" filter="url(#tx_py)" opacity="1"/><polygon points="0,80 70,82 70,100 0,100" fill="#000" filter="url(#tx_gy)" opacity="0.85"/><polygon points="76,82 100,80 100,100 76,100" fill="#000" filter="url(#tx_py)" opacity="0.8"/><polygon points="92,8 100,6 100,45 93,45" fill="#000" filter="url(#tx_pt)" opacity="1"/><polygon points="58,4 92,4 92,10 58,10" fill="#000" filter="url(#tx_ptd)" opacity="1"/><polyline points="65,57 95,60" fill="none" stroke="#54c568" stroke-width="1.0" opacity="1" stroke-linejoin="round" stroke-linecap="round"/><polyline points="76,53 96,58" fill="none" stroke="#a5db36" stroke-width="1.0" opacity="1" stroke-linejoin="round" stroke-linecap="round"/></g>
</svg>
<rect x="247.6" y="427.4" width="78.4" height="78.4" fill="none" stroke="#262626" stroke-width="0.8"/>
<text transform="translate(286.8,524.6) scale(1,1.1)" font-size="9.3" text-anchor="middle" stroke="#1a1a1a" stroke-width="0.279">Tree</text>
<svg x="356.7" y="427.4" width="78.4" height="78.4" viewBox="0 0 100 100" preserveAspectRatio="none" overflow="hidden">
<g filter="url(#mblur)"><rect x="-3" y="-3" width="106" height="106" fill="#440154"/><polygon points="0,0 58,0 55,12 42,40 34,100 0,100" fill="#000" filter="url(#tx_pts)" opacity="1"/><path d="M0 30l32 8M0 35.5l32 8M0 41l32 8M0 46.5l32 8M0 52l32 8M0 57.5l32 8M0 63l32 8M0 68.5l32 8M0 74l32 8M0 79.5l32 8M0 85l32 8M0 90.5l32 8M0 96l32 8" stroke="#23888e" stroke-width="0.6" opacity="0.6" fill="none"/><polygon points="58,33 78,35 80,42 76,47 58,46" fill="#000" filter="url(#tx_gy)" opacity="1"/><polygon points="60,35 75,36 76,44 60,44" fill="#d2e21b" opacity="0.6"/></g>
</svg>
<rect x="356.7" y="427.4" width="78.4" height="78.4" fill="none" stroke="#262626" stroke-width="0.8"/>
<text transform="translate(395.9,524.6) scale(1,1.1)" font-size="9.3" text-anchor="middle" stroke="#1a1a1a" stroke-width="0.279">Roof</text>
<svg x="465.5" y="427.4" width="78.4" height="78.4" viewBox="0 0 100 100" preserveAspectRatio="none" overflow="hidden">
<g filter="url(#mblur)"><rect x="-3" y="-3" width="106" height="106" fill="#000" filter="url(#tx_pb)"/><polygon points="0,0 80,0 78,10 0,14" fill="#000" filter="url(#tx_tp)" opacity="1"/><ellipse cx="8" cy="3" rx="2" ry="1.5" fill="#7ad151" opacity="1"/><ellipse cx="17" cy="2.5" rx="1.5" ry="1.2" fill="#a5db36" opacity="1"/><ellipse cx="29" cy="5" rx="1.5" ry="1.5" fill="#7ad151" opacity="1"/><ellipse cx="40" cy="3" rx="1.5" ry="1.2" fill="#a5db36" opacity="1"/><polygon points="0,14 40,16 36,100 0,100" fill="#000" filter="url(#tx_ptd)" opacity="1"/><path d="M0 20l36 8M0 26l36 8M0 32l36 8M0 38l36 8M0 44l36 8M0 50l36 8M0 56l36 8M0 62l36 8M0 68l36 8M0 74l36 8M0 80l36 8M0 86l36 8M0 92l36 8M0 98l36 8" stroke="#23888e" stroke-width="0.7" opacity="0.8" fill="none"/><path d="M8 15l-4 85M16 15l-4 85M24 15l-4 85M32 15l-4 85" stroke="#23888e" stroke-width="0.6" opacity="0.7" fill="none"/><polygon points="56,10 86,6 100,8 100,16 84,16 56,16" fill="#000" filter="url(#tx_gt)" opacity="0.8"/><polygon points="58,14 82,14 82,45 58,45" fill="#440154" opacity="1"/><polyline points="56,13 57,46 80,50" fill="none" stroke="#31688e" stroke-width="1.2" opacity="1" stroke-linejoin="round" stroke-linecap="round"/><polyline points="85,9 91,22 89,40 82,52 74,58" fill="none" stroke="#000" filter="url(#tx_gy)" stroke-width="3.4" opacity="1" stroke-linejoin="round" stroke-linecap="round"/><polyline points="87,13 91,24 89,36" fill="none" stroke="#fde725" stroke-width="1.4" opacity="1" stroke-linejoin="round" stroke-linecap="round"/><polyline points="90,36 100,33" fill="none" stroke="#1f988b" stroke-width="0.9" opacity="1" stroke-linejoin="round" stroke-linecap="round"/><polyline points="88,44 100,42" fill="none" stroke="#1f988b" stroke-width="0.8" opacity="1" stroke-linejoin="round" stroke-linecap="round"/><polyline points="48,40 72,62" fill="none" stroke="#1f988b" stroke-width="1.0" opacity="1" stroke-linejoin="round" stroke-linecap="round"/><polyline points="52,48 70,60" fill="none" stroke="#23888e" stroke-width="0.8" opacity="1" stroke-linejoin="round" stroke-linecap="round"/><polyline points="72,58 69,80 64,100" fill="none" stroke="#1f988b" stroke-width="1.0" opacity="1" stroke-linejoin="round" stroke-linecap="round"/><ellipse cx="76" cy="57" rx="5" ry="4" fill="#000" filter="url(#tx_gy)" opacity="1"/><ellipse cx="16" cy="63" rx="3" ry="4" fill="#000" filter="url(#tx_gy)" opacity="1"/><polygon points="36,62 100,58 100,100 36,100" fill="#000" filter="url(#tx_pd)" opacity="1"/><ellipse cx="60" cy="78" rx="12" ry="8" fill="#39568c" opacity="0.35"/><ellipse cx="88" cy="82" rx="10" ry="6" fill="#472f7d" opacity="0.5"/></g>
</svg>
<rect x="465.5" y="427.4" width="78.4" height="78.4" fill="none" stroke="#262626" stroke-width="0.8"/>
<text transform="translate(504.7,524.6) scale(1,1.1)" font-size="9.3" text-anchor="middle" stroke="#1a1a1a" stroke-width="0.279">Dirt</text>
<svg x="24.9" y="654.6" width="65.2" height="65.2" viewBox="0 0 100 100" preserveAspectRatio="none" overflow="hidden">
<g filter="url(#mblur)"><rect x="-3" y="-3" width="106" height="106" fill="#440154"/><polygon points="0,0 62,0 60,11 0,15" fill="#000" filter="url(#tx_pt)" opacity="1"/><path d="M6 1l-1 9M13.5 1l-1 9M21 1l-1 9M28.5 1l-1 9M36 1l-1 9M43.5 1l-1 9M51 1l-1 9M58.5 1l-1 9" stroke="#23888e" stroke-width="1.0" opacity="0.7" fill="none"/><polygon points="0,15 56,11 56,44 34,42 31,100 0,100" fill="#000" filter="url(#tx_ptd)" opacity="1"/><path d="M9 18l-3 26M15.2 18l-3 26M21.4 18l-3 26M27.6 18l-3 26M33.8 18l-3 26M40 18l-3 26M46.2 18l-3 26M52.4 18l-3 26" stroke="#1f988b" stroke-width="0.9" opacity="0.9" fill="none"/><path d="M0 46l32 6M0 51.5l32 6M0 57l32 6M0 62.5l32 6M0 68l32 6M0 73.5l32 6M0 79l32 6M0 84.5l32 6M0 90l32 6M0 95.5l32 6" stroke="#1f988b" stroke-width="0.8" opacity="0.75" fill="none"/><polyline points="15.3,44 11,100" fill="none" stroke="#1f988b" stroke-width="0.9" opacity="1" stroke-linejoin="round" stroke-linecap="round"/><polyline points="30.6,44 26.9,100" fill="none" stroke="#1f988b" stroke-width="0.9" opacity="1" stroke-linejoin="round" stroke-linecap="round"/><polygon points="30,15 56,12 56,19 30,21" fill="#23888e" opacity="0.7"/><polygon points="34,50 72,58 64,100 30,100" fill="#481a6c" opacity="0.3"/><polygon points="59,15.5 81,17.5 84,26 80,31 74,34 59,33" fill="#000" filter="url(#tx_yy)" opacity="1"/><polygon points="60,16 80,18 82,27 60,30" fill="#fde725" opacity="0.8"/><polygon points="60,33.5 79,34 79,46 60,46" fill="#000" filter="url(#tx_pb)" opacity="1"/><polyline points="56.5,14 55.5,46 80,50" fill="none" stroke="#1f988b" stroke-width="1.0" opacity="1" stroke-linejoin="round" stroke-linecap="round"/><rect x="77.5" y="39" width="3" height="7" fill="#d2e21b" opacity="1"/><polyline points="0,14.2 50,11 86,5.8 100,3.3" fill="none" stroke="#a5db36" stroke-width="3.6" opacity="1" stroke-linejoin="round" stroke-linecap="round"/><polyline points="0,14.2 50,11 86,5.8 100,3.3" fill="none" stroke="#d2e21b" stroke-width="1.6" opacity="1" stroke-linejoin="round" stroke-linecap="round"/><polyline points="62,7 100,1.5" fill="none" stroke="#1f988b" stroke-width="0.6" opacity="1" stroke-linejoin="round" stroke-linecap="round"/><polyline points="0,32.4 51,43.6 81,52" fill="none" stroke="#35b779" stroke-width="1.1" opacity="1" stroke-linejoin="round" stroke-linecap="round"/><polyline points="85.3,8 88,28 84,46 78,54 72,64 69,78 66,100" fill="none" stroke="#1f988b" stroke-width="0.9" opacity="1" stroke-linejoin="round" stroke-linecap="round"/><polyline points="17.5,43 24.5,43 24.5,51.5 17.5,51.5 17.5,43" fill="none" stroke="#fde725" stroke-width="1.4" opacity="1" stroke-linejoin="round" stroke-linecap="round"/><rect x="44" y="46" width="4" height="4" fill="#54c568" opacity="1"/><rect x="19.5" y="63" width="7.5" height="6.5" fill="#35b779" opacity="1"/></g>
</svg>
<rect x="24.9" y="654.6" width="65.2" height="65.2" fill="none" stroke="#262626" stroke-width="0.8"/>
<text transform="translate(57.5,735.7) scale(1,1.1)" font-size="7.6" text-anchor="middle" stroke="#1a1a1a" stroke-width="0.228">Asphalt</text>
<svg x="115.6" y="654.6" width="65.2" height="65.2" viewBox="0 0 100 100" preserveAspectRatio="none" overflow="hidden">
<g filter="url(#mblur)"><rect x="-3" y="-3" width="106" height="106" fill="#000" filter="url(#tx_ptd)"/><polygon points="0,0 62,0 60,11 0,15" fill="#000" filter="url(#tx_ptd)" opacity="1"/><polygon points="8,0 42,0 41,11 8,12" fill="#000" filter="url(#tx_gt)" opacity="1"/><path d="M12 1l-1 9M17 1l-1 9M22 1l-1 9M27 1l-1 9M32 1l-1 9M37 1l-1 9" stroke="#7ad151" stroke-width="1.4" opacity="0.9" fill="none"/><polygon points="30,20 53,17 53,45 36,45" fill="#000" filter="url(#tx_tp)" opacity="1"/><polygon points="72,0 100,0 100,5 72,9" fill="#000" filter="url(#tx_gt)" opacity="1"/><polyline points="0,15 60,11 100,6" fill="none" stroke="#440154" stroke-width="2.4" opacity="1" stroke-linejoin="round" stroke-linecap="round"/><polygon points="86,10 100,6 100,48 84,48" fill="#000" filter="url(#tx_gt)" opacity="1"/><ellipse cx="95" cy="36" rx="5" ry="6" fill="#000" filter="url(#tx_yy)" opacity="0.9"/><polygon points="25,40 36,38 36,48 25,50" fill="#000" filter="url(#tx_gy)" opacity="1"/><polygon points="14,50 30,50 30,58 14,58" fill="#000" filter="url(#tx_gt)" opacity="1"/><polygon points="53,13 86,11 86,50 53,50" fill="#000" filter="url(#tx_gt)" opacity="1"/><polygon points="56.5,15.5 83,15.5 82,48 56.5,46" fill="#440154" opacity="1"/><polygon points="36,50 74,53 72,88 34,88" fill="#000" filter="url(#tx_gy)" opacity="1"/><polygon points="74,50 100,50 100,88 72,88" fill="#000" filter="url(#tx_yy)" opacity="1"/><ellipse cx="54" cy="72" rx="10" ry="7" fill="#000" filter="url(#tx_yy)" opacity="0.8"/><polyline points="78,52 73,64 70,88" fill="none" stroke="#440154" stroke-width="1.4" opacity="1" stroke-linejoin="round" stroke-linecap="round"/><polygon points="0,88 100,86 100,100 0,100" fill="#000" filter="url(#tx_ptd)" opacity="1"/></g>
</svg>
<rect x="115.6" y="654.6" width="65.2" height="65.2" fill="none" stroke="#262626" stroke-width="0.8"/>
<text transform="translate(148.2,735.7) scale(1,1.1)" font-size="7.6" text-anchor="middle" stroke="#1a1a1a" stroke-width="0.228">Grass</text>
<svg x="206.3" y="654.6" width="65.2" height="65.2" viewBox="0 0 100 100" preserveAspectRatio="none" overflow="hidden">
<g filter="url(#mblur)"><rect x="-3" y="-3" width="106" height="106" fill="#440154"/><polygon points="0,0 62,0 60,11 0,15" fill="#000" filter="url(#tx_ptd)" opacity="1"/><path d="M22 0l-0.5 8M28 0l-0.5 8M8 2l-0.5 8" stroke="#7ad151" stroke-width="1.0" opacity="0.9" fill="none"/><polygon points="0,14 22,12 20,30 0,30" fill="#000" filter="url(#tx_pt)" opacity="1"/><polygon points="18,20 52,12 55,22 45,46 30,46" fill="#000" filter="url(#tx_py)" opacity="1"/><polygon points="22,22 50,14 52,20 30,28" fill="#000" filter="url(#tx_gy)" opacity="0.8"/><polygon points="0,28 34,38 33,80 0,80" fill="#000" filter="url(#tx_py)" opacity="1"/><polygon points="0,40 16,42 15,80 0,80" fill="#000" filter="url(#tx_gy)" opacity="0.6"/><path d="M0 32l34 10M0 37.2l34 10M0 42.4l34 10M0 47.6l34 10M0 52.8l34 10M0 58l34 10M0 63.2l34 10M0 68.4l34 10M0 73.6l34 10M0 78.8l34 10" stroke="#7ad151" stroke-width="0.9" opacity="0.85" fill="none"/><polyline points="37,40 33,100" fill="none" stroke="#7ad151" stroke-width="1.3" opacity="1" stroke-linejoin="round" stroke-linecap="round"/><polyline points="40,45 62,60" fill="none" stroke="#54c568" stroke-width="1.0" opacity="1" stroke-linejoin="round" stroke-linecap="round"/><polyline points="45,56 62,75" fill="none" stroke="#1f988b" stroke-width="0.9" opacity="1" stroke-linejoin="round" stroke-linecap="round"/><polygon points="0,78 76,80 76,100 0,100" fill="#000" filter="url(#tx_py)" opacity="1"/><polygon points="0,80 70,82 70,100 0,100" fill="#000" filter="url(#tx_gy)" opacity="0.85"/><polygon points="76,82 100,80 100,100 76,100" fill="#000" filter="url(#tx_py)" opacity="0.8"/><polygon points="92,8 100,6 100,45 93,45" fill="#000" filter="url(#tx_pt)" opacity="1"/><polygon points="58,4 92,4 92,10 58,10" fill="#000" filter="url(#tx_ptd)" opacity="1"/><polyline points="65,57 95,60" fill="none" stroke="#54c568" stroke-width="1.0" opacity="1" stroke-linejoin="round" stroke-linecap="round"/><polyline points="76,53 96,58" fill="none" stroke="#a5db36" stroke-width="1.0" opacity="1" stroke-linejoin="round" stroke-linecap="round"/></g>
</svg>
<rect x="206.3" y="654.6" width="65.2" height="65.2" fill="none" stroke="#262626" stroke-width="0.8"/>
<text transform="translate(238.9,735.7) scale(1,1.1)" font-size="7.6" text-anchor="middle" stroke="#1a1a1a" stroke-width="0.228">Tree</text>
<svg x="296.8" y="654.6" width="65.2" height="65.2" viewBox="0 0 100 100" preserveAspectRatio="none" overflow="hidden">
<g filter="url(#mblur)"><rect x="-3" y="-3" width="106" height="106" fill="#440154"/><polygon points="0,0 58,0 55,12 42,40 34,100 0,100" fill="#000" filter="url(#tx_pts)" opacity="1"/><path d="M0 30l32 8M0 35.5l32 8M0 41l32 8M0 46.5l32 8M0 52l32 8M0 57.5l32 8M0 63l32 8M0 68.5l32 8M0 74l32 8M0 79.5l32 8M0 85l32 8M0 90.5l32 8M0 96l32 8" stroke="#23888e" stroke-width="0.6" opacity="0.6" fill="none"/><polygon points="58,33 78,35 80,42 76,47 58,46" fill="#000" filter="url(#tx_gy)" opacity="1"/><polygon points="60,35 75,36 76,44 60,44" fill="#d2e21b" opacity="0.6"/></g>
</svg>
<rect x="296.8" y="654.6" width="65.2" height="65.2" fill="none" stroke="#262626" stroke-width="0.8"/>
<text transform="translate(329.4,735.7) scale(1,1.1)" font-size="7.6" text-anchor="middle" stroke="#1a1a1a" stroke-width="0.228">Roof</text>
<svg x="387.3" y="654.6" width="65.2" height="65.2" viewBox="0 0 100 100" preserveAspectRatio="none" overflow="hidden">
<g filter="url(#mblur)"><rect x="-3" y="-3" width="106" height="106" fill="#440154"/><polygon points="0,6 26,6 41,27 18,98 0,100" fill="#000" filter="url(#tx_pts)" opacity="1"/><polygon points="0,20 12,20 8,100 0,100" fill="#000" filter="url(#tx_pts)" opacity="1"/><path d="M0 30l25 6M0 37l25 6M0 44l25 6M0 51l25 6M0 58l25 6M0 65l25 6M0 72l25 6M0 79l25 6M0 86l25 6M0 93l25 6" stroke="#2a788e" stroke-width="0.5" opacity="0.5" fill="none"/><polyline points="45,25 70,22 92,30" fill="none" stroke="#472f7d" stroke-width="0.8" opacity="0.6" stroke-linejoin="round" stroke-linecap="round"/><polyline points="50,45 75,40 90,50" fill="none" stroke="#472f7d" stroke-width="0.8" opacity="0.6" stroke-linejoin="round" stroke-linecap="round"/><polyline points="40,15 55,12 80,18" fill="none" stroke="#481a6c" stroke-width="1.0" opacity="0.6" stroke-linejoin="round" stroke-linecap="round"/><ellipse cx="19" cy="48" rx="1.8" ry="2.2" fill="#d2e21b" opacity="1"/></g>
</svg>
<rect x="387.3" y="654.6" width="65.2" height="65.2" fill="none" stroke="#262626" stroke-width="0.8"/>
<text transform="translate(419.9,735.7) scale(1,1.1)" font-size="7.6" text-anchor="middle" stroke="#1a1a1a" stroke-width="0.228">Metal</text>
<svg x="478.2" y="654.6" width="65.2" height="65.2" viewBox="0 0 100 100" preserveAspectRatio="none" overflow="hidden">
<g filter="url(#mblur)"><rect x="-3" y="-3" width="106" height="106" fill="#000" filter="url(#tx_pb)"/><polygon points="0,0 80,0 78,10 0,14" fill="#000" filter="url(#tx_tp)" opacity="1"/><ellipse cx="8" cy="3" rx="2" ry="1.5" fill="#7ad151" opacity="1"/><ellipse cx="17" cy="2.5" rx="1.5" ry="1.2" fill="#a5db36" opacity="1"/><ellipse cx="29" cy="5" rx="1.5" ry="1.5" fill="#7ad151" opacity="1"/><ellipse cx="40" cy="3" rx="1.5" ry="1.2" fill="#a5db36" opacity="1"/><polygon points="0,14 40,16 36,100 0,100" fill="#000" filter="url(#tx_ptd)" opacity="1"/><path d="M0 20l36 8M0 26l36 8M0 32l36 8M0 38l36 8M0 44l36 8M0 50l36 8M0 56l36 8M0 62l36 8M0 68l36 8M0 74l36 8M0 80l36 8M0 86l36 8M0 92l36 8M0 98l36 8" stroke="#23888e" stroke-width="0.7" opacity="0.8" fill="none"/><path d="M8 15l-4 85M16 15l-4 85M24 15l-4 85M32 15l-4 85" stroke="#23888e" stroke-width="0.6" opacity="0.7" fill="none"/><polygon points="56,10 86,6 100,8 100,16 84,16 56,16" fill="#000" filter="url(#tx_gt)" opacity="0.8"/><polygon points="58,14 82,14 82,45 58,45" fill="#440154" opacity="1"/><polyline points="56,13 57,46 80,50" fill="none" stroke="#31688e" stroke-width="1.2" opacity="1" stroke-linejoin="round" stroke-linecap="round"/><polyline points="85,9 91,22 89,40 82,52 74,58" fill="none" stroke="#000" filter="url(#tx_gy)" stroke-width="3.4" opacity="1" stroke-linejoin="round" stroke-linecap="round"/><polyline points="87,13 91,24 89,36" fill="none" stroke="#fde725" stroke-width="1.4" opacity="1" stroke-linejoin="round" stroke-linecap="round"/><polyline points="90,36 100,33" fill="none" stroke="#1f988b" stroke-width="0.9" opacity="1" stroke-linejoin="round" stroke-linecap="round"/><polyline points="88,44 100,42" fill="none" stroke="#1f988b" stroke-width="0.8" opacity="1" stroke-linejoin="round" stroke-linecap="round"/><polyline points="48,40 72,62" fill="none" stroke="#1f988b" stroke-width="1.0" opacity="1" stroke-linejoin="round" stroke-linecap="round"/><polyline points="52,48 70,60" fill="none" stroke="#23888e" stroke-width="0.8" opacity="1" stroke-linejoin="round" stroke-linecap="round"/><polyline points="72,58 69,80 64,100" fill="none" stroke="#1f988b" stroke-width="1.0" opacity="1" stroke-linejoin="round" stroke-linecap="round"/><ellipse cx="76" cy="57" rx="5" ry="4" fill="#000" filter="url(#tx_gy)" opacity="1"/><ellipse cx="16" cy="63" rx="3" ry="4" fill="#000" filter="url(#tx_gy)" opacity="1"/><polygon points="36,62 100,58 100,100 36,100" fill="#000" filter="url(#tx_pd)" opacity="1"/><ellipse cx="60" cy="78" rx="12" ry="8" fill="#39568c" opacity="0.35"/><ellipse cx="88" cy="82" rx="10" ry="6" fill="#472f7d" opacity="0.5"/></g>
</svg>
<rect x="478.2" y="654.6" width="65.2" height="65.2" fill="none" stroke="#262626" stroke-width="0.8"/>
<text transform="translate(510.8,735.7) scale(1,1.1)" font-size="7.6" text-anchor="middle" stroke="#1a1a1a" stroke-width="0.228">Dirt</text>
<text x="275.6" y="292.4" font-size="12.3" font-weight="bold" text-anchor="middle" stroke="#1a1a1a" stroke-width="0.2">(a)</text>
<text x="275.5" y="541.6" font-size="12.3" font-weight="bold" text-anchor="middle" stroke="#1a1a1a" stroke-width="0.2">(b)</text>
<text x="275.6" y="753.2" font-size="12.3" font-weight="bold" text-anchor="middle" stroke="#1a1a1a" stroke-width="0.2">(c)</text>
</svg></body></html>
